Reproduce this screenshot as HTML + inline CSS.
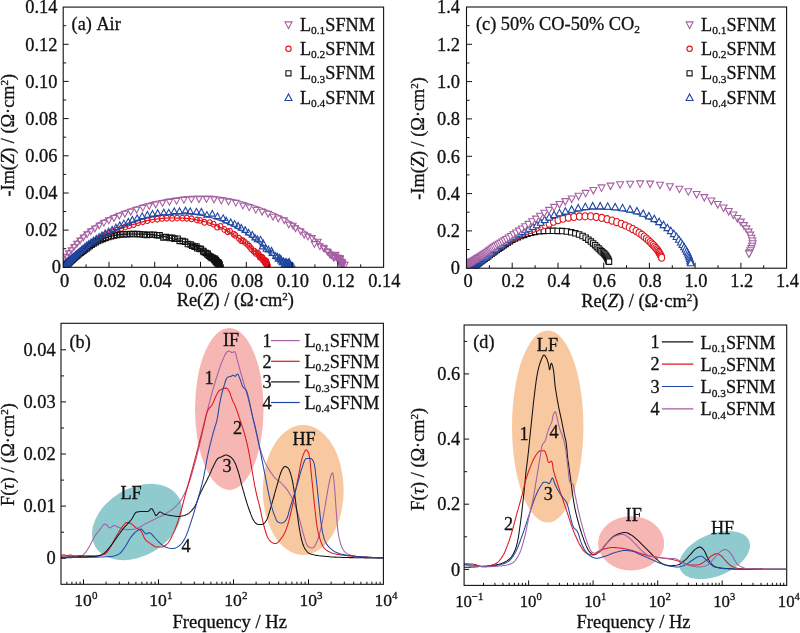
<!DOCTYPE html>
<html><head><meta charset="utf-8"><title>EIS and DRT plots</title>
<style>
html,body{margin:0;padding:0;background:#fff;}
svg{display:block;will-change:transform;font-family:"Liberation Serif",serif;fill:#111;}
text{stroke:#111;stroke-width:0.3px;}
</style></head><body>
<svg width="800" height="633" viewBox="0 0 800 633">
<rect width="800" height="633" fill="#fff"/>
<clipPath id="ca"><rect x="63.2" y="7.1" width="320.4" height="260.2"/></clipPath>
<g fill="none" stroke="#a55fa3" stroke-width="1.1" clip-path="url(#ca)"><path fill="none" stroke-width="1.2" d="M64.8 261.0L65.0 259.7L65.2 258.4L65.5 257.1L65.9 255.9L66.3 254.7L66.8 253.5L67.3 252.4L67.8 251.3L68.5 250.3L69.3 249.3L70.2 248.3L71.1 247.3L72.0 246.3L72.8 245.3L73.7 244.4L74.5 243.4L75.3 242.4L76.2 241.5L77.1 240.5L77.9 239.6L78.8 238.7L79.7 237.8L80.6 236.9L81.6 236.0L82.5 235.1L83.5 234.3L84.5 233.5L85.4 232.6L86.4 231.8L87.4 231.0L88.4 230.2L89.4 229.4L90.4 228.6L91.5 227.9L92.5 227.1L93.6 226.4L94.6 225.7L95.7 224.9L96.7 224.2L97.8 223.5L98.9 222.8L100.0 222.1L101.1 221.4L102.2 220.8L103.3 220.2L104.4 219.5L105.5 219.0L106.7 218.4L107.8 217.8L109.0 217.3L110.1 216.7L111.3 216.2L112.5 215.6L113.6 215.1L114.8 214.6L116.0 214.1L117.2 213.6L118.4 213.2L119.6 212.7L120.7 212.2L121.9 211.7L123.1 211.3L124.3 210.8L125.5 210.4L126.7 210.0L128.0 209.5L129.2 209.1L130.4 208.7L131.6 208.3L132.8 207.9L134.0 207.5L135.3 207.1L136.5 206.7L137.7 206.3L138.9 206.0L140.1 205.6L141.4 205.2L142.6 204.9L143.8 204.5L145.1 204.1L146.3 203.8L147.5 203.5L148.8 203.1L150.0 202.8L151.3 202.5L152.5 202.2L153.7 201.9L155.0 201.6L156.2 201.3L157.5 201.1L158.7 200.8L160.0 200.5L161.3 200.3L162.5 200.1L163.8 199.8L165.0 199.6L166.3 199.4L167.6 199.2L168.8 199.0L170.1 198.8L171.4 198.6L172.6 198.4L173.9 198.2L175.2 198.0L176.4 197.8L177.7 197.7L179.0 197.5L180.2 197.3L181.5 197.1L182.8 197.0L184.1 196.8L185.3 196.7L186.6 196.6L187.9 196.5L189.2 196.4L190.4 196.4L191.7 196.3L193.0 196.3L194.3 196.2L195.6 196.2L196.8 196.2L198.1 196.1L199.4 196.1L200.7 196.1L202.0 196.0L203.3 196.0L204.5 196.0L205.8 196.0L207.1 196.0L208.4 196.0L209.7 196.0L210.9 196.1L212.2 196.2L213.5 196.3L214.8 196.5L216.0 196.6L217.3 196.8L218.6 197.0L219.9 197.1L221.1 197.3L222.4 197.5L223.7 197.7L224.9 197.9L226.2 198.1L227.4 198.3L228.7 198.5L230.0 198.8L231.2 199.1L232.5 199.3L233.7 199.6L235.0 199.9L236.2 200.2L237.5 200.5L238.7 200.8L239.9 201.1L241.2 201.5L242.4 201.8L243.6 202.2L244.9 202.5L246.1 202.9L247.3 203.3L248.5 203.7L249.8 204.1L251.0 204.5L252.2 204.9L253.4 205.3L254.6 205.7L255.8 206.1L257.0 206.5L258.3 206.9L259.5 207.4L260.7 207.8L261.9 208.2L263.1 208.7L264.3 209.1L265.5 209.6L266.7 210.1L267.9 210.5L269.0 211.0L270.2 211.5L271.4 212.0L272.6 212.5L273.8 213.0L275.0 213.5L276.1 214.0L277.3 214.6L278.5 215.1L279.6 215.7L280.8 216.2L281.9 216.8L283.0 217.4L284.2 218.0L285.3 218.6L286.4 219.2L287.5 219.9L288.6 220.6L289.7 221.2L290.8 221.9L291.8 222.6L292.9 223.3L294.0 224.0L295.1 224.7L296.1 225.4L297.2 226.1L298.3 226.8L299.3 227.6L300.4 228.3L301.5 229.0L302.5 229.7L303.6 230.4L304.6 231.1L305.7 231.9L306.7 232.6L307.8 233.3L308.8 234.1L309.9 234.8L310.9 235.6L312.0 236.3L313.0 237.1L314.0 237.9L315.0 238.6L316.1 239.4L317.1 240.2L318.1 241.0L319.1 241.8L320.1 242.6L321.0 243.4L322.0 244.2L323.0 245.1L324.0 245.9L325.0 246.7L326.0 247.5L327.0 248.3L328.0 249.1L329.1 249.8L330.1 250.6L331.2 251.3L332.3 251.9L333.5 252.6L334.7 253.2L335.9 253.8L337.0 254.5L338.1 255.2L339.1 255.9L340.0 256.7L340.7 257.6L341.4 258.6L342.0 259.7L342.6 261.0"/><path d="M61.7 261.6h6.2l-3.1 5.8z"/><path d="M62.3 258.0h6.2l-3.1 5.8z"/><path d="M63.5 254.4h6.2l-3.1 5.8z"/><path d="M65.4 250.8h6.2l-3.1 5.8z"/><path d="M68.1 247.7h6.2l-3.1 5.8z"/><path d="M70.9 244.5h6.2l-3.1 5.8z"/><path d="M73.8 241.3h6.2l-3.1 5.8z"/><path d="M76.9 238.1h6.2l-3.1 5.8z"/><path d="M80.3 235.0h6.2l-3.1 5.8z"/><path d="M83.9 231.9h6.2l-3.1 5.8z"/><path d="M87.7 228.9h6.2l-3.1 5.8z"/><path d="M91.8 226.0h6.2l-3.1 5.8z"/><path d="M96.2 223.1h6.2l-3.1 5.8z"/><path d="M100.8 220.4h6.2l-3.1 5.8z"/><path d="M105.7 217.9h6.2l-3.1 5.8z"/><path d="M110.9 215.5h6.2l-3.1 5.8z"/><path d="M116.2 213.3h6.2l-3.1 5.8z"/><path d="M121.8 211.2h6.2l-3.1 5.8z"/><path d="M127.6 209.2h6.2l-3.1 5.8z"/><path d="M133.5 207.2h6.2l-3.1 5.8z"/><path d="M139.7 205.4h6.2l-3.1 5.8z"/><path d="M146.1 203.6h6.2l-3.1 5.8z"/><path d="M152.6 202.0h6.2l-3.1 5.8z"/><path d="M159.4 200.6h6.2l-3.1 5.8z"/><path d="M166.3 199.4h6.2l-3.1 5.8z"/><path d="M173.5 198.4h6.2l-3.1 5.8z"/><path d="M180.8 197.4h6.2l-3.1 5.8z"/><path d="M188.3 196.9h6.2l-3.1 5.8z"/><path d="M195.9 196.7h6.2l-3.1 5.8z"/><path d="M203.4 196.6h6.2l-3.1 5.8z"/><path d="M210.9 197.0h6.2l-3.1 5.8z"/><path d="M218.2 198.1h6.2l-3.1 5.8z"/><path d="M225.4 199.1h6.2l-3.1 5.8z"/><path d="M232.7 200.4h6.2l-3.1 5.8z"/><path d="M239.8 203.1h6.2l-3.1 5.8z"/><path d="M246.1 204.9h6.2l-3.1 5.8z"/><path d="M252.7 207.4h6.2l-3.1 5.8z"/><path d="M259.0 209.2h6.2l-3.1 5.8z"/><path d="M265.0 211.3h6.2l-3.1 5.8z"/><path d="M269.9 214.3h6.2l-3.1 5.8z"/><path d="M275.2 216.0h6.2l-3.1 5.8z"/><path d="M281.2 217.8h6.2l-3.1 5.8z"/><path d="M285.7 222.1h6.2l-3.1 5.8z"/><path d="M289.9 223.2h6.2l-3.1 5.8z"/><path d="M292.4 225.8h6.2l-3.1 5.8z"/><path d="M297.6 228.8h6.2l-3.1 5.8z"/><path d="M301.1 232.2h6.2l-3.1 5.8z"/><path d="M304.8 234.1h6.2l-3.1 5.8z"/><path d="M309.0 235.6h6.2l-3.1 5.8z"/><path d="M311.3 241.6h6.2l-3.1 5.8z"/><path d="M315.0 239.3h6.2l-3.1 5.8z"/><path d="M316.8 243.9h6.2l-3.1 5.8z"/><path d="M320.3 245.3h6.2l-3.1 5.8z"/><path d="M321.1 246.0h6.2l-3.1 5.8z"/><path d="M324.2 249.0h6.2l-3.1 5.8z"/><path d="M325.1 249.8h6.2l-3.1 5.8z"/><path d="M326.9 252.2h6.2l-3.1 5.8z"/><path d="M328.2 252.8h6.2l-3.1 5.8z"/><path d="M330.7 253.6h6.2l-3.1 5.8z"/><path d="M330.6 255.4h6.2l-3.1 5.8z"/><path d="M331.8 254.7h6.2l-3.1 5.8z"/><path d="M332.7 252.4h6.2l-3.1 5.8z"/><path d="M334.2 255.5h6.2l-3.1 5.8z"/><path d="M334.7 255.9h6.2l-3.1 5.8z"/><path d="M334.8 255.0h6.2l-3.1 5.8z"/><path d="M335.7 258.8h6.2l-3.1 5.8z"/><path d="M336.9 256.1h6.2l-3.1 5.8z"/><path d="M337.1 256.5h6.2l-3.1 5.8z"/><path d="M336.7 258.6h6.2l-3.1 5.8z"/><path d="M337.0 255.7h6.2l-3.1 5.8z"/><path d="M337.0 258.4h6.2l-3.1 5.8z"/><path d="M338.1 260.3h6.2l-3.1 5.8z"/><path d="M337.7 260.0h6.2l-3.1 5.8z"/><path d="M338.8 259.2h6.2l-3.1 5.8z"/><path d="M339.3 260.4h6.2l-3.1 5.8z"/><path d="M338.2 261.6h6.2l-3.1 5.8z"/><path d="M338.1 260.6h6.2l-3.1 5.8z"/><path d="M339.2 261.4h6.2l-3.1 5.8z"/><path d="M338.8 261.2h6.2l-3.1 5.8z"/><path d="M339.4 262.8h6.2l-3.1 5.8z"/><path d="M339.0 261.9h6.2l-3.1 5.8z"/><path d="M339.5 260.5h6.2l-3.1 5.8z"/><path d="M341.9 262.4h6.2l-3.1 5.8z"/><path d="M338.7 264.4h6.2l-3.1 5.8z"/></g>
<g fill="none" stroke="#e0141e" stroke-width="1.1" clip-path="url(#ca)"><path fill="none" stroke-width="1.2" d="M65.0 266.3L65.6 265.6L66.3 265.0L66.9 264.3L67.6 263.6L68.2 263.0L68.9 262.3L69.5 261.7L70.2 261.0L70.9 260.4L71.6 259.8L72.2 259.2L72.9 258.6L73.6 258.0L74.3 257.4L75.0 256.8L75.7 256.2L76.4 255.6L77.2 255.0L77.9 254.4L78.6 253.8L79.3 253.2L80.0 252.6L80.6 251.9L81.3 251.3L82.0 250.7L82.7 250.1L83.4 249.5L84.1 248.9L84.8 248.3L85.6 247.7L86.3 247.2L87.0 246.6L87.7 246.0L88.5 245.5L89.2 244.9L90.0 244.4L90.7 243.9L91.5 243.3L92.2 242.8L93.0 242.3L93.8 241.8L94.6 241.3L95.3 240.8L96.1 240.3L96.9 239.8L97.7 239.3L98.5 238.9L99.3 238.4L100.1 237.9L100.9 237.5L101.7 237.0L102.5 236.6L103.3 236.1L104.1 235.7L105.0 235.3L105.8 234.8L106.6 234.4L107.4 234.0L108.3 233.6L109.1 233.3L109.9 232.9L110.8 232.5L111.6 232.2L112.5 231.8L113.3 231.4L114.2 231.1L115.1 230.8L115.9 230.4L116.8 230.1L117.7 229.8L118.5 229.4L119.4 229.1L120.3 228.8L121.1 228.5L122.0 228.2L122.9 227.9L123.7 227.6L124.6 227.3L125.5 227.0L126.4 226.7L127.2 226.4L128.1 226.1L129.0 225.8L129.9 225.5L130.8 225.2L131.6 224.9L132.5 224.7L133.4 224.4L134.3 224.1L135.2 223.9L136.1 223.6L136.9 223.4L137.8 223.1L138.7 222.9L139.6 222.6L140.5 222.4L141.4 222.1L142.3 221.9L143.2 221.6L144.1 221.4L145.0 221.1L145.9 220.9L146.8 220.7L147.7 220.5L148.6 220.3L149.5 220.1L150.4 219.9L151.3 219.8L152.2 219.6L153.1 219.5L154.0 219.4L154.9 219.3L155.9 219.2L156.8 219.0L157.7 218.9L158.6 218.8L159.5 218.7L160.4 218.6L161.4 218.5L162.3 218.4L163.2 218.3L164.1 218.2L165.1 218.2L166.0 218.1L166.9 218.1L167.8 218.0L168.8 218.0L169.7 218.0L170.6 218.0L171.5 218.0L172.4 218.0L173.4 218.0L174.3 218.0L175.2 218.0L176.1 218.1L177.1 218.1L178.0 218.1L178.9 218.1L179.8 218.1L180.8 218.2L181.7 218.2L182.6 218.2L183.5 218.2L184.5 218.3L185.4 218.3L186.3 218.4L187.2 218.4L188.1 218.5L189.0 218.6L190.0 218.7L190.9 218.8L191.8 219.0L192.7 219.1L193.6 219.3L194.5 219.4L195.5 219.6L196.4 219.8L197.3 220.0L198.2 220.1L199.1 220.3L200.0 220.5L200.9 220.7L201.8 220.9L202.7 221.1L203.6 221.3L204.5 221.5L205.4 221.8L206.3 222.0L207.2 222.3L208.0 222.6L208.9 222.9L209.8 223.2L210.7 223.4L211.6 223.8L212.4 224.1L213.3 224.4L214.2 224.7L215.0 225.0L215.9 225.3L216.7 225.7L217.6 226.0L218.4 226.4L219.3 226.8L220.1 227.2L220.9 227.6L221.8 228.0L222.6 228.4L223.4 228.8L224.3 229.3L225.1 229.7L225.9 230.2L226.7 230.6L227.5 231.1L228.3 231.5L229.1 232.0L229.9 232.4L230.7 232.9L231.5 233.4L232.3 233.9L233.0 234.4L233.8 234.9L234.6 235.4L235.4 235.9L236.1 236.4L236.9 236.9L237.6 237.5L238.4 238.0L239.2 238.5L239.9 239.1L240.6 239.6L241.4 240.2L242.1 240.8L242.9 241.3L243.6 241.9L244.3 242.5L245.0 243.0L245.8 243.6L246.5 244.2L247.2 244.8L247.9 245.4L248.6 245.9L249.3 246.5L250.0 247.1L250.7 247.8L251.4 248.4L252.1 249.0L252.8 249.6L253.5 250.2L254.1 250.9L254.8 251.5L255.5 252.1L256.2 252.8L256.8 253.4L257.5 254.0L258.2 254.7L258.8 255.3L259.5 256.0L260.1 256.6L260.8 257.3L261.4 257.9L262.1 258.6L262.7 259.3L263.3 260.0L263.9 260.6L264.6 261.3L265.2 262.0L265.8 262.7L266.4 263.4L267.0 264.1"/><path d="M62.6 266.3a2.4 2.4 0 1 0 4.7 0a2.4 2.4 0 1 0 -4.7 0z"/><path d="M62.9 266.0a2.4 2.4 0 1 0 4.7 0a2.4 2.4 0 1 0 -4.7 0z"/><path d="M63.2 265.7a2.4 2.4 0 1 0 4.7 0a2.4 2.4 0 1 0 -4.7 0z"/><path d="M63.5 265.4a2.4 2.4 0 1 0 4.7 0a2.4 2.4 0 1 0 -4.7 0z"/><path d="M63.8 265.0a2.4 2.4 0 1 0 4.7 0a2.4 2.4 0 1 0 -4.7 0z"/><path d="M64.2 264.7a2.4 2.4 0 1 0 4.7 0a2.4 2.4 0 1 0 -4.7 0z"/><path d="M64.6 264.3a2.4 2.4 0 1 0 4.7 0a2.4 2.4 0 1 0 -4.7 0z"/><path d="M64.9 263.9a2.4 2.4 0 1 0 4.7 0a2.4 2.4 0 1 0 -4.7 0z"/><path d="M65.4 263.5a2.4 2.4 0 1 0 4.7 0a2.4 2.4 0 1 0 -4.7 0z"/><path d="M65.8 263.0a2.4 2.4 0 1 0 4.7 0a2.4 2.4 0 1 0 -4.7 0z"/><path d="M66.3 262.6a2.4 2.4 0 1 0 4.7 0a2.4 2.4 0 1 0 -4.7 0z"/><path d="M66.8 262.1a2.4 2.4 0 1 0 4.7 0a2.4 2.4 0 1 0 -4.7 0z"/><path d="M67.3 261.6a2.4 2.4 0 1 0 4.7 0a2.4 2.4 0 1 0 -4.7 0z"/><path d="M67.9 261.0a2.4 2.4 0 1 0 4.7 0a2.4 2.4 0 1 0 -4.7 0z"/><path d="M68.5 260.4a2.4 2.4 0 1 0 4.7 0a2.4 2.4 0 1 0 -4.7 0z"/><path d="M69.2 259.8a2.4 2.4 0 1 0 4.7 0a2.4 2.4 0 1 0 -4.7 0z"/><path d="M69.9 259.1a2.4 2.4 0 1 0 4.7 0a2.4 2.4 0 1 0 -4.7 0z"/><path d="M70.7 258.4a2.4 2.4 0 1 0 4.7 0a2.4 2.4 0 1 0 -4.7 0z"/><path d="M71.6 257.7a2.4 2.4 0 1 0 4.7 0a2.4 2.4 0 1 0 -4.7 0z"/><path d="M72.6 256.8a2.4 2.4 0 1 0 4.7 0a2.4 2.4 0 1 0 -4.7 0z"/><path d="M73.7 255.9a2.4 2.4 0 1 0 4.7 0a2.4 2.4 0 1 0 -4.7 0z"/><path d="M74.8 255.0a2.4 2.4 0 1 0 4.7 0a2.4 2.4 0 1 0 -4.7 0z"/><path d="M76.1 253.9a2.4 2.4 0 1 0 4.7 0a2.4 2.4 0 1 0 -4.7 0z"/><path d="M77.4 252.7a2.4 2.4 0 1 0 4.7 0a2.4 2.4 0 1 0 -4.7 0z"/><path d="M78.8 251.5a2.4 2.4 0 1 0 4.7 0a2.4 2.4 0 1 0 -4.7 0z"/><path d="M80.4 250.1a2.4 2.4 0 1 0 4.7 0a2.4 2.4 0 1 0 -4.7 0z"/><path d="M82.0 248.7a2.4 2.4 0 1 0 4.7 0a2.4 2.4 0 1 0 -4.7 0z"/><path d="M83.8 247.3a2.4 2.4 0 1 0 4.7 0a2.4 2.4 0 1 0 -4.7 0z"/><path d="M85.7 245.8a2.4 2.4 0 1 0 4.7 0a2.4 2.4 0 1 0 -4.7 0z"/><path d="M87.8 244.2a2.4 2.4 0 1 0 4.7 0a2.4 2.4 0 1 0 -4.7 0z"/><path d="M90.1 242.7a2.4 2.4 0 1 0 4.7 0a2.4 2.4 0 1 0 -4.7 0z"/><path d="M92.6 241.0a2.4 2.4 0 1 0 4.7 0a2.4 2.4 0 1 0 -4.7 0z"/><path d="M95.2 239.4a2.4 2.4 0 1 0 4.7 0a2.4 2.4 0 1 0 -4.7 0z"/><path d="M98.0 237.8a2.4 2.4 0 1 0 4.7 0a2.4 2.4 0 1 0 -4.7 0z"/><path d="M100.9 236.1a2.4 2.4 0 1 0 4.7 0a2.4 2.4 0 1 0 -4.7 0z"/><path d="M104.1 234.5a2.4 2.4 0 1 0 4.7 0a2.4 2.4 0 1 0 -4.7 0z"/><path d="M107.5 232.9a2.4 2.4 0 1 0 4.7 0a2.4 2.4 0 1 0 -4.7 0z"/><path d="M111.1 231.4a2.4 2.4 0 1 0 4.7 0a2.4 2.4 0 1 0 -4.7 0z"/><path d="M114.9 229.9a2.4 2.4 0 1 0 4.7 0a2.4 2.4 0 1 0 -4.7 0z"/><path d="M118.9 228.4a2.4 2.4 0 1 0 4.7 0a2.4 2.4 0 1 0 -4.7 0z"/><path d="M122.8 227.0a2.4 2.4 0 1 0 4.7 0a2.4 2.4 0 1 0 -4.7 0z"/><path d="M126.8 225.6a2.4 2.4 0 1 0 4.7 0a2.4 2.4 0 1 0 -4.7 0z"/><path d="M131.2 224.7a2.4 2.4 0 1 0 4.7 0a2.4 2.4 0 1 0 -4.7 0z"/><path d="M135.7 222.7a2.4 2.4 0 1 0 4.7 0a2.4 2.4 0 1 0 -4.7 0z"/><path d="M140.4 221.7a2.4 2.4 0 1 0 4.7 0a2.4 2.4 0 1 0 -4.7 0z"/><path d="M145.0 220.6a2.4 2.4 0 1 0 4.7 0a2.4 2.4 0 1 0 -4.7 0z"/><path d="M149.9 219.5a2.4 2.4 0 1 0 4.7 0a2.4 2.4 0 1 0 -4.7 0z"/><path d="M154.9 219.2a2.4 2.4 0 1 0 4.7 0a2.4 2.4 0 1 0 -4.7 0z"/><path d="M159.6 218.4a2.4 2.4 0 1 0 4.7 0a2.4 2.4 0 1 0 -4.7 0z"/><path d="M164.4 218.2a2.4 2.4 0 1 0 4.7 0a2.4 2.4 0 1 0 -4.7 0z"/><path d="M169.8 218.3a2.4 2.4 0 1 0 4.7 0a2.4 2.4 0 1 0 -4.7 0z"/><path d="M174.8 218.0a2.4 2.4 0 1 0 4.7 0a2.4 2.4 0 1 0 -4.7 0z"/><path d="M180.0 218.1a2.4 2.4 0 1 0 4.7 0a2.4 2.4 0 1 0 -4.7 0z"/><path d="M184.4 218.2a2.4 2.4 0 1 0 4.7 0a2.4 2.4 0 1 0 -4.7 0z"/><path d="M189.2 218.8a2.4 2.4 0 1 0 4.7 0a2.4 2.4 0 1 0 -4.7 0z"/><path d="M194.6 220.0a2.4 2.4 0 1 0 4.7 0a2.4 2.4 0 1 0 -4.7 0z"/><path d="M197.7 220.4a2.4 2.4 0 1 0 4.7 0a2.4 2.4 0 1 0 -4.7 0z"/><path d="M202.1 222.3a2.4 2.4 0 1 0 4.7 0a2.4 2.4 0 1 0 -4.7 0z"/><path d="M207.4 222.6a2.4 2.4 0 1 0 4.7 0a2.4 2.4 0 1 0 -4.7 0z"/><path d="M211.1 224.2a2.4 2.4 0 1 0 4.7 0a2.4 2.4 0 1 0 -4.7 0z"/><path d="M214.8 227.1a2.4 2.4 0 1 0 4.7 0a2.4 2.4 0 1 0 -4.7 0z"/><path d="M218.1 226.4a2.4 2.4 0 1 0 4.7 0a2.4 2.4 0 1 0 -4.7 0z"/><path d="M222.0 229.5a2.4 2.4 0 1 0 4.7 0a2.4 2.4 0 1 0 -4.7 0z"/><path d="M225.2 231.7a2.4 2.4 0 1 0 4.7 0a2.4 2.4 0 1 0 -4.7 0z"/><path d="M227.6 231.1a2.4 2.4 0 1 0 4.7 0a2.4 2.4 0 1 0 -4.7 0z"/><path d="M231.4 234.2a2.4 2.4 0 1 0 4.7 0a2.4 2.4 0 1 0 -4.7 0z"/><path d="M233.0 235.4a2.4 2.4 0 1 0 4.7 0a2.4 2.4 0 1 0 -4.7 0z"/><path d="M236.7 238.3a2.4 2.4 0 1 0 4.7 0a2.4 2.4 0 1 0 -4.7 0z"/><path d="M238.8 240.6a2.4 2.4 0 1 0 4.7 0a2.4 2.4 0 1 0 -4.7 0z"/><path d="M240.6 240.8a2.4 2.4 0 1 0 4.7 0a2.4 2.4 0 1 0 -4.7 0z"/><path d="M242.7 242.5a2.4 2.4 0 1 0 4.7 0a2.4 2.4 0 1 0 -4.7 0z"/><path d="M245.1 244.4a2.4 2.4 0 1 0 4.7 0a2.4 2.4 0 1 0 -4.7 0z"/><path d="M247.1 246.3a2.4 2.4 0 1 0 4.7 0a2.4 2.4 0 1 0 -4.7 0z"/><path d="M248.9 248.8a2.4 2.4 0 1 0 4.7 0a2.4 2.4 0 1 0 -4.7 0z"/><path d="M251.2 251.0a2.4 2.4 0 1 0 4.7 0a2.4 2.4 0 1 0 -4.7 0z"/><path d="M252.2 251.4a2.4 2.4 0 1 0 4.7 0a2.4 2.4 0 1 0 -4.7 0z"/><path d="M253.4 253.4a2.4 2.4 0 1 0 4.7 0a2.4 2.4 0 1 0 -4.7 0z"/><path d="M255.6 253.3a2.4 2.4 0 1 0 4.7 0a2.4 2.4 0 1 0 -4.7 0z"/><path d="M256.4 254.6a2.4 2.4 0 1 0 4.7 0a2.4 2.4 0 1 0 -4.7 0z"/><path d="M256.9 256.0a2.4 2.4 0 1 0 4.7 0a2.4 2.4 0 1 0 -4.7 0z"/><path d="M257.7 257.4a2.4 2.4 0 1 0 4.7 0a2.4 2.4 0 1 0 -4.7 0z"/><path d="M257.9 256.9a2.4 2.4 0 1 0 4.7 0a2.4 2.4 0 1 0 -4.7 0z"/><path d="M259.2 257.3a2.4 2.4 0 1 0 4.7 0a2.4 2.4 0 1 0 -4.7 0z"/><path d="M260.0 257.5a2.4 2.4 0 1 0 4.7 0a2.4 2.4 0 1 0 -4.7 0z"/><path d="M260.3 258.1a2.4 2.4 0 1 0 4.7 0a2.4 2.4 0 1 0 -4.7 0z"/><path d="M260.6 260.1a2.4 2.4 0 1 0 4.7 0a2.4 2.4 0 1 0 -4.7 0z"/><path d="M262.1 261.0a2.4 2.4 0 1 0 4.7 0a2.4 2.4 0 1 0 -4.7 0z"/><path d="M262.2 260.5a2.4 2.4 0 1 0 4.7 0a2.4 2.4 0 1 0 -4.7 0z"/><path d="M262.7 260.6a2.4 2.4 0 1 0 4.7 0a2.4 2.4 0 1 0 -4.7 0z"/><path d="M261.9 260.1a2.4 2.4 0 1 0 4.7 0a2.4 2.4 0 1 0 -4.7 0z"/><path d="M262.4 262.3a2.4 2.4 0 1 0 4.7 0a2.4 2.4 0 1 0 -4.7 0z"/><path d="M262.3 261.5a2.4 2.4 0 1 0 4.7 0a2.4 2.4 0 1 0 -4.7 0z"/><path d="M262.6 261.8a2.4 2.4 0 1 0 4.7 0a2.4 2.4 0 1 0 -4.7 0z"/><path d="M262.8 261.3a2.4 2.4 0 1 0 4.7 0a2.4 2.4 0 1 0 -4.7 0z"/><path d="M264.0 261.1a2.4 2.4 0 1 0 4.7 0a2.4 2.4 0 1 0 -4.7 0z"/><path d="M263.1 263.2a2.4 2.4 0 1 0 4.7 0a2.4 2.4 0 1 0 -4.7 0z"/><path d="M264.3 263.0a2.4 2.4 0 1 0 4.7 0a2.4 2.4 0 1 0 -4.7 0z"/><path d="M263.9 263.5a2.4 2.4 0 1 0 4.7 0a2.4 2.4 0 1 0 -4.7 0z"/><path d="M264.2 264.4a2.4 2.4 0 1 0 4.7 0a2.4 2.4 0 1 0 -4.7 0z"/><path d="M264.3 263.2a2.4 2.4 0 1 0 4.7 0a2.4 2.4 0 1 0 -4.7 0z"/><path d="M264.5 264.3a2.4 2.4 0 1 0 4.7 0a2.4 2.4 0 1 0 -4.7 0z"/><path d="M265.5 265.7a2.4 2.4 0 1 0 4.7 0a2.4 2.4 0 1 0 -4.7 0z"/><path d="M264.9 263.5a2.4 2.4 0 1 0 4.7 0a2.4 2.4 0 1 0 -4.7 0z"/><path d="M264.5 266.4a2.4 2.4 0 1 0 4.7 0a2.4 2.4 0 1 0 -4.7 0z"/></g>
<g fill="none" stroke="#111111" stroke-width="1.1" clip-path="url(#ca)"><path fill="none" stroke-width="1.2" d="M65.0 266.5L65.5 266.0L66.0 265.5L66.5 265.0L67.0 264.6L67.5 264.1L68.0 263.6L68.5 263.1L69.0 262.7L69.5 262.2L70.0 261.7L70.5 261.3L71.0 260.8L71.5 260.3L72.0 259.9L72.5 259.4L73.1 259.0L73.6 258.5L74.1 258.0L74.6 257.6L75.1 257.1L75.7 256.7L76.2 256.2L76.7 255.8L77.2 255.4L77.8 254.9L78.3 254.5L78.9 254.1L79.4 253.6L79.9 253.2L80.5 252.8L81.0 252.4L81.6 252.0L82.2 251.6L82.7 251.2L83.3 250.8L83.8 250.4L84.4 250.0L85.0 249.6L85.5 249.2L86.1 248.8L86.7 248.4L87.2 248.0L87.8 247.6L88.3 247.2L88.9 246.7L89.4 246.3L90.0 245.9L90.6 245.5L91.1 245.1L91.7 244.7L92.3 244.3L92.8 243.9L93.4 243.6L94.0 243.2L94.6 242.8L95.2 242.5L95.8 242.2L96.4 241.9L97.0 241.5L97.6 241.2L98.2 240.9L98.9 240.6L99.5 240.4L100.1 240.1L100.8 239.8L101.4 239.5L102.0 239.3L102.7 239.0L103.3 238.8L104.0 238.5L104.6 238.3L105.3 238.0L105.9 237.8L106.6 237.6L107.2 237.3L107.9 237.1L108.5 236.9L109.2 236.7L109.8 236.5L110.5 236.3L111.2 236.1L111.8 235.9L112.5 235.8L113.2 235.7L113.9 235.5L114.5 235.4L115.2 235.3L115.9 235.2L116.6 235.1L117.3 235.0L117.9 234.9L118.6 234.8L119.3 234.7L120.0 234.6L120.7 234.5L121.4 234.5L122.1 234.4L122.7 234.4L123.4 234.3L124.1 234.3L124.8 234.2L125.5 234.2L126.2 234.1L126.9 234.1L127.6 234.1L128.3 234.0L129.0 234.0L129.6 234.0L130.3 234.0L131.0 234.0L131.7 234.0L132.4 234.0L133.1 234.0L133.8 234.0L134.5 234.0L135.2 234.0L135.8 234.0L136.5 234.0L137.2 234.0L137.9 234.1L138.6 234.1L139.3 234.1L140.0 234.1L140.7 234.1L141.4 234.1L142.1 234.1L142.7 234.1L143.4 234.1L144.1 234.2L144.8 234.2L145.5 234.2L146.2 234.2L146.9 234.2L147.6 234.3L148.3 234.3L148.9 234.3L149.6 234.4L150.3 234.5L151.0 234.5L151.7 234.6L152.4 234.7L153.1 234.8L153.7 234.9L154.4 235.0L155.1 235.1L155.8 235.2L156.5 235.3L157.2 235.4L157.9 235.5L158.5 235.6L159.2 235.7L159.9 235.8L160.6 235.9L161.3 236.0L161.9 236.1L162.6 236.3L163.3 236.4L164.0 236.5L164.6 236.7L165.3 236.8L166.0 237.0L166.7 237.1L167.3 237.3L168.0 237.5L168.7 237.6L169.3 237.8L170.0 238.0L170.7 238.1L171.3 238.3L172.0 238.5L172.7 238.6L173.3 238.8L174.0 239.0L174.7 239.2L175.4 239.3L176.0 239.5L176.7 239.7L177.4 239.9L178.0 240.0L178.7 240.2L179.4 240.4L180.0 240.6L180.7 240.8L181.3 241.0L182.0 241.2L182.7 241.4L183.3 241.6L184.0 241.8L184.6 242.1L185.3 242.3L185.9 242.5L186.6 242.8L187.2 243.0L187.8 243.3L188.5 243.5L189.1 243.8L189.8 244.0L190.4 244.3L191.1 244.6L191.7 244.8L192.3 245.1L193.0 245.4L193.6 245.7L194.2 246.0L194.8 246.3L195.5 246.6L196.1 246.9L196.7 247.2L197.3 247.5L197.9 247.9L198.5 248.2L199.1 248.5L199.7 248.8L200.3 249.2L200.9 249.5L201.5 249.9L202.1 250.2L202.6 250.6L203.2 251.0L203.8 251.4L204.4 251.8L204.9 252.2L205.5 252.6L206.0 253.0L206.6 253.4L207.1 253.9L207.7 254.3L208.2 254.7L208.8 255.1L209.3 255.6L209.9 256.0L210.4 256.4L210.9 256.9L211.5 257.3L212.0 257.7L212.5 258.2L213.0 258.6L213.6 259.1L214.1 259.5L214.6 260.0L215.1 260.5L215.6 260.9L216.1 261.4L216.6 261.9L217.1 262.3L217.6 262.8L218.1 263.3L218.6 263.8L219.1 264.3"/><path d="M62.3 263.8h5.4v5.4h-5.4z"/><path d="M62.6 263.5h5.4v5.4h-5.4z"/><path d="M62.9 263.2h5.4v5.4h-5.4z"/><path d="M63.2 262.9h5.4v5.4h-5.4z"/><path d="M63.5 262.6h5.4v5.4h-5.4z"/><path d="M63.8 262.3h5.4v5.4h-5.4z"/><path d="M64.1 262.0h5.4v5.4h-5.4z"/><path d="M64.5 261.7h5.4v5.4h-5.4z"/><path d="M64.8 261.3h5.4v5.4h-5.4z"/><path d="M65.2 261.0h5.4v5.4h-5.4z"/><path d="M65.6 260.6h5.4v5.4h-5.4z"/><path d="M65.9 260.3h5.4v5.4h-5.4z"/><path d="M66.3 259.9h5.4v5.4h-5.4z"/><path d="M66.8 259.5h5.4v5.4h-5.4z"/><path d="M67.2 259.1h5.4v5.4h-5.4z"/><path d="M67.7 258.6h5.4v5.4h-5.4z"/><path d="M68.3 258.1h5.4v5.4h-5.4z"/><path d="M68.8 257.6h5.4v5.4h-5.4z"/><path d="M69.5 257.1h5.4v5.4h-5.4z"/><path d="M70.1 256.4h5.4v5.4h-5.4z"/><path d="M70.9 255.8h5.4v5.4h-5.4z"/><path d="M71.7 255.1h5.4v5.4h-5.4z"/><path d="M72.5 254.3h5.4v5.4h-5.4z"/><path d="M73.5 253.5h5.4v5.4h-5.4z"/><path d="M74.5 252.7h5.4v5.4h-5.4z"/><path d="M75.6 251.8h5.4v5.4h-5.4z"/><path d="M76.7 250.9h5.4v5.4h-5.4z"/><path d="M77.9 250.0h5.4v5.4h-5.4z"/><path d="M79.3 249.0h5.4v5.4h-5.4z"/><path d="M80.7 248.0h5.4v5.4h-5.4z"/><path d="M82.2 246.9h5.4v5.4h-5.4z"/><path d="M83.8 245.8h5.4v5.4h-5.4z"/><path d="M85.4 244.6h5.4v5.4h-5.4z"/><path d="M87.1 243.3h5.4v5.4h-5.4z"/><path d="M88.9 242.0h5.4v5.4h-5.4z"/><path d="M90.9 240.7h5.4v5.4h-5.4z"/><path d="M93.0 239.5h5.4v5.4h-5.4z"/><path d="M95.2 238.4h5.4v5.4h-5.4z"/><path d="M97.7 237.3h5.4v5.4h-5.4z"/><path d="M100.2 236.2h5.4v5.4h-5.4z"/><path d="M102.9 235.2h5.4v5.4h-5.4z"/><path d="M105.6 234.3h5.4v5.4h-5.4z"/><path d="M108.4 233.5h5.4v5.4h-5.4z"/><path d="M111.3 232.8h5.4v5.4h-5.4z"/><path d="M114.3 232.2h5.4v5.4h-5.4z"/><path d="M117.6 231.8h5.4v5.4h-5.4z"/><path d="M120.8 231.5h5.4v5.4h-5.4z"/><path d="M124.0 231.6h5.4v5.4h-5.4z"/><path d="M127.4 231.2h5.4v5.4h-5.4z"/><path d="M130.8 231.4h5.4v5.4h-5.4z"/><path d="M134.3 231.4h5.4v5.4h-5.4z"/><path d="M137.2 231.6h5.4v5.4h-5.4z"/><path d="M141.0 231.8h5.4v5.4h-5.4z"/><path d="M144.1 232.4h5.4v5.4h-5.4z"/><path d="M147.4 232.0h5.4v5.4h-5.4z"/><path d="M151.0 232.0h5.4v5.4h-5.4z"/><path d="M154.4 232.5h5.4v5.4h-5.4z"/><path d="M156.9 232.6h5.4v5.4h-5.4z"/><path d="M160.7 234.7h5.4v5.4h-5.4z"/><path d="M163.3 234.4h5.4v5.4h-5.4z"/><path d="M167.1 235.4h5.4v5.4h-5.4z"/><path d="M169.4 235.1h5.4v5.4h-5.4z"/><path d="M171.7 236.1h5.4v5.4h-5.4z"/><path d="M174.9 236.0h5.4v5.4h-5.4z"/><path d="M177.0 238.2h5.4v5.4h-5.4z"/><path d="M180.0 238.3h5.4v5.4h-5.4z"/><path d="M182.4 239.1h5.4v5.4h-5.4z"/><path d="M185.2 241.4h5.4v5.4h-5.4z"/><path d="M187.9 241.8h5.4v5.4h-5.4z"/><path d="M189.5 243.1h5.4v5.4h-5.4z"/><path d="M191.9 244.1h5.4v5.4h-5.4z"/><path d="M193.7 243.7h5.4v5.4h-5.4z"/><path d="M194.5 245.6h5.4v5.4h-5.4z"/><path d="M196.8 246.0h5.4v5.4h-5.4z"/><path d="M198.2 246.2h5.4v5.4h-5.4z"/><path d="M200.5 248.3h5.4v5.4h-5.4z"/><path d="M201.1 249.2h5.4v5.4h-5.4z"/><path d="M202.9 250.2h5.4v5.4h-5.4z"/><path d="M204.9 250.9h5.4v5.4h-5.4z"/><path d="M204.8 251.8h5.4v5.4h-5.4z"/><path d="M206.2 253.0h5.4v5.4h-5.4z"/><path d="M207.6 253.8h5.4v5.4h-5.4z"/><path d="M208.2 254.6h5.4v5.4h-5.4z"/><path d="M209.1 255.3h5.4v5.4h-5.4z"/><path d="M209.9 255.0h5.4v5.4h-5.4z"/><path d="M210.8 255.8h5.4v5.4h-5.4z"/><path d="M211.7 257.0h5.4v5.4h-5.4z"/><path d="M211.9 257.2h5.4v5.4h-5.4z"/><path d="M212.2 256.1h5.4v5.4h-5.4z"/><path d="M213.0 257.4h5.4v5.4h-5.4z"/><path d="M213.3 257.8h5.4v5.4h-5.4z"/><path d="M213.2 258.4h5.4v5.4h-5.4z"/><path d="M213.1 258.7h5.4v5.4h-5.4z"/><path d="M213.9 258.8h5.4v5.4h-5.4z"/><path d="M213.5 258.9h5.4v5.4h-5.4z"/><path d="M214.3 260.1h5.4v5.4h-5.4z"/><path d="M214.7 259.8h5.4v5.4h-5.4z"/><path d="M214.3 260.4h5.4v5.4h-5.4z"/><path d="M214.9 259.9h5.4v5.4h-5.4z"/><path d="M215.4 260.6h5.4v5.4h-5.4z"/><path d="M215.5 259.8h5.4v5.4h-5.4z"/><path d="M215.3 259.7h5.4v5.4h-5.4z"/><path d="M215.8 260.9h5.4v5.4h-5.4z"/><path d="M216.3 261.3h5.4v5.4h-5.4z"/><path d="M216.0 262.6h5.4v5.4h-5.4z"/><path d="M216.0 260.8h5.4v5.4h-5.4z"/><path d="M216.4 262.1h5.4v5.4h-5.4z"/><path d="M216.7 261.7h5.4v5.4h-5.4z"/><path d="M216.4 262.9h5.4v5.4h-5.4z"/></g>
<g fill="none" stroke="#1f47a3" stroke-width="1.1" clip-path="url(#ca)"><path fill="none" stroke-width="1.2" d="M65.0 268.8L65.7 268.0L66.3 267.2L67.0 266.4L67.7 265.6L68.4 264.9L69.1 264.1L69.8 263.3L70.5 262.6L71.2 261.9L72.0 261.1L72.7 260.4L73.5 259.7L74.2 259.0L75.0 258.3L75.8 257.6L76.6 256.9L77.3 256.2L78.1 255.6L78.9 254.9L79.7 254.2L80.4 253.5L81.2 252.8L82.0 252.1L82.8 251.4L83.5 250.7L84.3 250.1L85.1 249.4L85.9 248.7L86.8 248.1L87.6 247.5L88.4 246.9L89.2 246.2L90.1 245.6L90.9 245.0L91.8 244.5L92.6 243.9L93.5 243.3L94.4 242.7L95.2 242.1L96.1 241.6L97.0 241.0L97.8 240.4L98.7 239.9L99.6 239.3L100.5 238.8L101.4 238.3L102.3 237.7L103.2 237.2L104.1 236.7L105.0 236.2L105.9 235.7L106.8 235.2L107.7 234.7L108.6 234.2L109.5 233.8L110.5 233.3L111.4 232.8L112.3 232.3L113.2 231.8L114.1 231.3L115.0 230.8L115.9 230.3L116.8 229.8L117.7 229.3L118.6 228.8L119.6 228.3L120.5 227.9L121.4 227.4L122.4 227.0L123.3 226.5L124.2 226.1L125.2 225.7L126.1 225.2L127.1 224.8L128.0 224.4L129.0 224.0L129.9 223.6L130.9 223.2L131.9 222.8L132.8 222.4L133.8 222.0L134.8 221.7L135.7 221.3L136.7 221.0L137.7 220.6L138.7 220.3L139.7 220.0L140.7 219.7L141.7 219.4L142.6 219.1L143.6 218.8L144.7 218.5L145.7 218.3L146.7 218.0L147.7 217.7L148.7 217.5L149.7 217.3L150.7 217.1L151.7 216.8L152.7 216.7L153.7 216.5L154.8 216.3L155.8 216.1L156.8 215.9L157.8 215.8L158.9 215.6L159.9 215.5L160.9 215.3L161.9 215.2L163.0 215.0L164.0 214.9L165.0 214.8L166.1 214.7L167.1 214.6L168.1 214.6L169.2 214.5L170.2 214.4L171.2 214.3L172.3 214.3L173.3 214.2L174.3 214.2L175.4 214.1L176.4 214.0L177.5 214.0L178.5 213.9L179.5 213.9L180.6 213.9L181.6 213.8L182.6 213.8L183.7 213.8L184.7 213.8L185.7 213.8L186.8 213.8L187.8 213.9L188.9 213.9L189.9 214.0L190.9 214.1L192.0 214.2L193.0 214.3L194.0 214.4L195.1 214.5L196.1 214.7L197.1 214.8L198.2 214.9L199.2 215.1L200.2 215.2L201.2 215.4L202.2 215.5L203.3 215.7L204.3 215.9L205.3 216.2L206.3 216.4L207.3 216.6L208.3 216.9L209.3 217.2L210.3 217.4L211.3 217.7L212.3 218.0L213.3 218.3L214.3 218.6L215.3 218.9L216.3 219.2L217.3 219.5L218.3 219.9L219.2 220.2L220.2 220.6L221.2 221.0L222.1 221.3L223.1 221.7L224.1 222.1L225.0 222.6L226.0 223.0L226.9 223.4L227.9 223.8L228.8 224.3L229.7 224.7L230.7 225.1L231.6 225.6L232.6 226.0L233.5 226.5L234.4 226.9L235.3 227.4L236.3 227.9L237.2 228.4L238.1 228.9L239.0 229.4L239.9 229.9L240.8 230.4L241.7 231.0L242.6 231.5L243.5 232.0L244.3 232.6L245.2 233.1L246.1 233.7L246.9 234.3L247.8 234.9L248.6 235.4L249.5 236.0L250.3 236.7L251.2 237.3L252.0 237.9L252.8 238.5L253.6 239.2L254.5 239.8L255.3 240.5L256.1 241.1L256.9 241.8L257.7 242.4L258.5 243.1L259.3 243.7L260.1 244.4L260.9 245.1L261.7 245.7L262.5 246.4L263.2 247.1L264.0 247.8L264.8 248.5L265.5 249.2L266.3 249.9L267.0 250.6L267.8 251.3L268.6 252.1L269.3 252.8L270.1 253.5L270.8 254.2L271.6 254.9L272.4 255.6L273.2 256.2L273.9 256.9L274.7 257.6L275.5 258.2L276.3 258.9L277.1 259.6L277.9 260.3L278.7 261.0L279.5 261.7L280.3 262.4L281.1 263.1L282.0 263.7L282.8 264.4L283.6 265.0L284.5 265.5L285.4 266.0L286.3 266.5L287.2 266.9L288.1 267.2L289.1 267.6L290.1 267.9L291.1 268.1"/><path d="M62.0 268.4h6.1l-3.0 -5.7z"/><path d="M62.2 268.1h6.1l-3.0 -5.7z"/><path d="M62.5 267.8h6.1l-3.0 -5.7z"/><path d="M62.8 267.4h6.1l-3.0 -5.7z"/><path d="M63.1 267.0h6.1l-3.0 -5.7z"/><path d="M63.4 266.6h6.1l-3.0 -5.7z"/><path d="M63.8 266.2h6.1l-3.0 -5.7z"/><path d="M64.2 265.8h6.1l-3.0 -5.7z"/><path d="M64.6 265.3h6.1l-3.0 -5.7z"/><path d="M65.0 264.8h6.1l-3.0 -5.7z"/><path d="M65.5 264.3h6.1l-3.0 -5.7z"/><path d="M66.0 263.8h6.1l-3.0 -5.7z"/><path d="M66.5 263.2h6.1l-3.0 -5.7z"/><path d="M67.1 262.6h6.1l-3.0 -5.7z"/><path d="M67.7 262.0h6.1l-3.0 -5.7z"/><path d="M68.4 261.3h6.1l-3.0 -5.7z"/><path d="M69.1 260.5h6.1l-3.0 -5.7z"/><path d="M70.0 259.7h6.1l-3.0 -5.7z"/><path d="M70.9 258.9h6.1l-3.0 -5.7z"/><path d="M71.9 258.0h6.1l-3.0 -5.7z"/><path d="M73.0 257.0h6.1l-3.0 -5.7z"/><path d="M74.2 256.0h6.1l-3.0 -5.7z"/><path d="M75.5 254.8h6.1l-3.0 -5.7z"/><path d="M76.9 253.5h6.1l-3.0 -5.7z"/><path d="M78.4 252.2h6.1l-3.0 -5.7z"/><path d="M80.0 250.8h6.1l-3.0 -5.7z"/><path d="M81.8 249.3h6.1l-3.0 -5.7z"/><path d="M83.7 247.7h6.1l-3.0 -5.7z"/><path d="M85.8 246.1h6.1l-3.0 -5.7z"/><path d="M88.1 244.5h6.1l-3.0 -5.7z"/><path d="M90.5 242.9h6.1l-3.0 -5.7z"/><path d="M93.2 241.1h6.1l-3.0 -5.7z"/><path d="M96.0 239.3h6.1l-3.0 -5.7z"/><path d="M98.9 237.5h6.1l-3.0 -5.7z"/><path d="M102.1 235.7h6.1l-3.0 -5.7z"/><path d="M105.5 233.9h6.1l-3.0 -5.7z"/><path d="M109.1 232.0h6.1l-3.0 -5.7z"/><path d="M112.8 229.9h6.1l-3.0 -5.7z"/><path d="M116.7 227.7h6.1l-3.0 -5.7z"/><path d="M120.8 225.8h6.1l-3.0 -5.7z"/><path d="M125.2 224.1h6.1l-3.0 -5.7z"/><path d="M129.3 222.2h6.1l-3.0 -5.7z"/><path d="M134.1 220.6h6.1l-3.0 -5.7z"/><path d="M139.1 218.5h6.1l-3.0 -5.7z"/><path d="M144.3 217.2h6.1l-3.0 -5.7z"/><path d="M149.4 216.1h6.1l-3.0 -5.7z"/><path d="M154.6 215.4h6.1l-3.0 -5.7z"/><path d="M160.7 214.9h6.1l-3.0 -5.7z"/><path d="M165.7 215.0h6.1l-3.0 -5.7z"/><path d="M171.2 213.6h6.1l-3.0 -5.7z"/><path d="M176.4 213.6h6.1l-3.0 -5.7z"/><path d="M182.4 212.9h6.1l-3.0 -5.7z"/><path d="M187.1 213.6h6.1l-3.0 -5.7z"/><path d="M193.4 214.0h6.1l-3.0 -5.7z"/><path d="M198.3 214.2h6.1l-3.0 -5.7z"/><path d="M203.8 217.3h6.1l-3.0 -5.7z"/><path d="M209.2 216.1h6.1l-3.0 -5.7z"/><path d="M214.4 218.6h6.1l-3.0 -5.7z"/><path d="M220.1 220.5h6.1l-3.0 -5.7z"/><path d="M223.1 222.9h6.1l-3.0 -5.7z"/><path d="M227.6 224.7h6.1l-3.0 -5.7z"/><path d="M231.5 226.3h6.1l-3.0 -5.7z"/><path d="M235.0 228.2h6.1l-3.0 -5.7z"/><path d="M238.2 230.2h6.1l-3.0 -5.7z"/><path d="M242.1 232.4h6.1l-3.0 -5.7z"/><path d="M245.5 235.0h6.1l-3.0 -5.7z"/><path d="M249.2 237.1h6.1l-3.0 -5.7z"/><path d="M251.8 240.0h6.1l-3.0 -5.7z"/><path d="M254.3 241.7h6.1l-3.0 -5.7z"/><path d="M257.4 242.0h6.1l-3.0 -5.7z"/><path d="M260.1 245.6h6.1l-3.0 -5.7z"/><path d="M259.2 248.9h6.1l-3.0 -5.7z"/><path d="M263.1 251.3h6.1l-3.0 -5.7z"/><path d="M265.3 251.9h6.1l-3.0 -5.7z"/><path d="M268.4 253.0h6.1l-3.0 -5.7z"/><path d="M269.1 255.4h6.1l-3.0 -5.7z"/><path d="M272.6 258.4h6.1l-3.0 -5.7z"/><path d="M274.3 259.0h6.1l-3.0 -5.7z"/><path d="M275.2 261.1h6.1l-3.0 -5.7z"/><path d="M276.5 260.0h6.1l-3.0 -5.7z"/><path d="M277.8 261.4h6.1l-3.0 -5.7z"/><path d="M277.7 263.0h6.1l-3.0 -5.7z"/><path d="M279.1 264.6h6.1l-3.0 -5.7z"/><path d="M280.2 263.6h6.1l-3.0 -5.7z"/><path d="M280.7 264.0h6.1l-3.0 -5.7z"/><path d="M281.2 266.6h6.1l-3.0 -5.7z"/><path d="M282.3 265.0h6.1l-3.0 -5.7z"/><path d="M282.3 265.0h6.1l-3.0 -5.7z"/><path d="M282.9 264.2h6.1l-3.0 -5.7z"/><path d="M283.9 265.9h6.1l-3.0 -5.7z"/><path d="M284.4 267.5h6.1l-3.0 -5.7z"/><path d="M284.6 265.3h6.1l-3.0 -5.7z"/><path d="M283.9 267.7h6.1l-3.0 -5.7z"/><path d="M285.8 265.2h6.1l-3.0 -5.7z"/><path d="M284.9 268.3h6.1l-3.0 -5.7z"/><path d="M286.0 269.6h6.1l-3.0 -5.7z"/><path d="M286.7 268.4h6.1l-3.0 -5.7z"/><path d="M286.7 266.8h6.1l-3.0 -5.7z"/><path d="M286.0 264.2h6.1l-3.0 -5.7z"/><path d="M288.2 268.5h6.1l-3.0 -5.7z"/><path d="M287.4 268.9h6.1l-3.0 -5.7z"/><path d="M287.0 269.6h6.1l-3.0 -5.7z"/><path d="M288.8 269.8h6.1l-3.0 -5.7z"/><path d="M287.5 269.6h6.1l-3.0 -5.7z"/><path d="M289.6 268.3h6.1l-3.0 -5.7z"/></g>
<rect x="63.2" y="7.1" width="320.4" height="260.2" fill="none" stroke="#111" stroke-width="1.1"/>
<path d="M109 267.3v-5.5M154.7 267.3v-5.5M200.5 267.3v-5.5M246.3 267.3v-5.5M292.1 267.3v-5.5M337.8 267.3v-5.5" stroke="#111" stroke-width="1.0" fill="none"/>
<path d="M86.1 267.3v-3M131.9 267.3v-3M177.6 267.3v-3M223.4 267.3v-3M269.2 267.3v-3M314.9 267.3v-3M360.7 267.3v-3" stroke="#111" stroke-width="1.0" fill="none"/>
<path d="M63.2 230.1h5.5M63.2 193h5.5M63.2 155.8h5.5M63.2 118.6h5.5M63.2 81.4h5.5M63.2 44.3h5.5" stroke="#111" stroke-width="1.0" fill="none"/>
<path d="M63.2 248.7h3M63.2 211.5h3M63.2 174.4h3M63.2 137.2h3M63.2 100h3M63.2 62.9h3M63.2 25.7h3" stroke="#111" stroke-width="1.0" fill="none"/>
<text x="64.6" y="287" font-size="18.4" text-anchor="middle">0</text>
<text x="60.9" y="272.9" font-size="18.4" text-anchor="end">0</text>
<text x="109.8" y="287" font-size="18.4" text-anchor="middle">0.02</text>
<text x="57.5" y="236.3" font-size="18.4" text-anchor="end">0.02</text>
<text x="155.5" y="287" font-size="18.4" text-anchor="middle">0.04</text>
<text x="57.5" y="199.2" font-size="18.4" text-anchor="end">0.04</text>
<text x="201.3" y="287" font-size="18.4" text-anchor="middle">0.06</text>
<text x="57.5" y="162" font-size="18.4" text-anchor="end">0.06</text>
<text x="247.1" y="287" font-size="18.4" text-anchor="middle">0.08</text>
<text x="57.5" y="124.8" font-size="18.4" text-anchor="end">0.08</text>
<text x="292.9" y="287" font-size="18.4" text-anchor="middle">0.10</text>
<text x="57.5" y="87.6" font-size="18.4" text-anchor="end">0.10</text>
<text x="338.6" y="287" font-size="18.4" text-anchor="middle">0.12</text>
<text x="57.5" y="50.5" font-size="18.4" text-anchor="end">0.12</text>
<text x="384.4" y="287" font-size="18.4" text-anchor="middle">0.14</text>
<text x="57.5" y="13.3" font-size="18.4" text-anchor="end">0.14</text>
<text x="235.3" y="306.2" font-size="18.4" text-anchor="middle">Re(<tspan font-style="italic">Z</tspan>) / (Ω·cm<tspan font-size="11" dy="-6">2</tspan><tspan dy="6">)</tspan></text>
<text transform="translate(14.3 135.2) rotate(-90)" font-size="18.3" text-anchor="middle">-Im(<tspan font-style="italic">Z</tspan>) / (Ω·cm<tspan font-size="11" dy="-6">2</tspan><tspan dy="6">)</tspan></text>
<text x="71.6" y="29.8" font-size="18.2" text-anchor="start">(a)<tspan dx="4.7">Air</tspan></text>
<path d="M285.0 21.9h7.0l-3.5 6.6z" fill="#fff" stroke="#a55fa3" stroke-width="1.1"/>
<text x="299.9" y="30.6" font-size="18.2" text-anchor="start">L<tspan font-size="11.4" dy="3.5">0.1</tspan><tspan dy="-3.5">SFNM</tspan></text>
<path d="M285.8 48.8a2.7 2.7 0 1 0 5.4 0a2.7 2.7 0 1 0 -5.4 0z" fill="#fff" stroke="#e0141e" stroke-width="1.1"/>
<text x="299.9" y="54.7" font-size="18.2" text-anchor="start">L<tspan font-size="11.4" dy="3.5">0.2</tspan><tspan dy="-3.5">SFNM</tspan></text>
<path d="M285.9 70.8h5.1v5.1h-5.1z" fill="#fff" stroke="#111111" stroke-width="1.1"/>
<text x="299.9" y="79.3" font-size="18.2" text-anchor="start">L<tspan font-size="11.4" dy="3.5">0.3</tspan><tspan dy="-3.5">SFNM</tspan></text>
<path d="M285.0 100.5h7.0l-3.5 -6.6z" fill="#fff" stroke="#1f47a3" stroke-width="1.1"/>
<text x="299.9" y="103.6" font-size="18.2" text-anchor="start">L<tspan font-size="11.4" dy="3.5">0.4</tspan><tspan dy="-3.5">SFNM</tspan></text>
<clipPath id="cc"><rect x="466.5" y="7" width="320.1" height="261.2"/></clipPath>
<g fill="#fff" stroke="#111111" stroke-width="1.1" clip-path="url(#cc)"><path fill="none" stroke-width="1.2" d="M471.0 268.5L471.5 268.1L472.1 267.8L472.6 267.4L473.1 267.0L473.6 266.7L474.2 266.3L474.7 265.9L475.2 265.6L475.7 265.2L476.3 264.8L476.8 264.5L477.3 264.1L477.8 263.7L478.4 263.4L478.9 263.0L479.4 262.6L479.9 262.3L480.5 261.9L481.0 261.5L481.5 261.1L482.0 260.8L482.5 260.4L483.1 260.0L483.6 259.7L484.1 259.3L484.6 258.9L485.1 258.5L485.7 258.2L486.2 257.8L486.7 257.4L487.2 257.0L487.7 256.6L488.2 256.3L488.8 255.9L489.3 255.5L489.8 255.1L490.3 254.7L490.8 254.3L491.3 254.0L491.8 253.6L492.4 253.2L492.9 252.8L493.4 252.4L493.9 252.0L494.4 251.7L494.9 251.3L495.5 250.9L496.0 250.6L496.5 250.2L497.0 249.8L497.6 249.5L498.1 249.1L498.6 248.7L499.1 248.4L499.7 248.0L500.2 247.6L500.7 247.3L501.3 246.9L501.8 246.5L502.3 246.2L502.9 245.8L503.4 245.5L503.9 245.1L504.5 244.7L505.0 244.4L505.5 244.0L506.1 243.7L506.6 243.3L507.2 243.0L507.7 242.6L508.2 242.3L508.8 241.9L509.3 241.6L509.9 241.3L510.4 240.9L511.0 240.6L511.5 240.3L512.1 240.0L512.7 239.7L513.2 239.4L513.8 239.1L514.3 238.8L514.9 238.5L515.5 238.3L516.1 238.0L516.6 237.7L517.2 237.5L517.8 237.2L518.4 237.0L519.0 236.7L519.6 236.5L520.2 236.3L520.8 236.0L521.4 235.8L522.0 235.6L522.6 235.4L523.2 235.2L523.8 235.0L524.4 234.8L525.1 234.6L525.7 234.4L526.3 234.2L526.9 234.0L527.5 233.8L528.1 233.6L528.7 233.4L529.4 233.3L530.0 233.1L530.6 232.9L531.2 232.8L531.8 232.6L532.5 232.5L533.1 232.4L533.7 232.2L534.3 232.1L535.0 232.0L535.6 231.8L536.2 231.7L536.9 231.6L537.5 231.5L538.1 231.4L538.8 231.3L539.4 231.2L540.0 231.1L540.7 231.1L541.3 231.0L542.0 231.0L542.6 231.0L543.2 231.0L543.9 230.9L544.5 230.9L545.1 230.9L545.8 230.9L546.4 230.9L547.1 230.9L547.7 230.9L548.4 230.8L549.0 230.8L549.6 230.8L550.3 230.8L550.9 230.8L551.6 230.8L552.2 230.8L552.8 230.8L553.5 230.8L554.1 230.8L554.8 230.8L555.4 230.8L556.1 230.8L556.7 230.8L557.3 230.8L558.0 230.9L558.6 230.9L559.3 230.9L559.9 231.0L560.5 231.0L561.2 231.0L561.8 231.1L562.5 231.1L563.1 231.2L563.7 231.2L564.4 231.3L565.0 231.3L565.6 231.4L566.3 231.4L566.9 231.5L567.6 231.6L568.2 231.7L568.8 231.8L569.5 231.9L570.1 232.0L570.7 232.2L571.3 232.3L572.0 232.5L572.6 232.6L573.2 232.8L573.8 232.9L574.5 233.1L575.1 233.2L575.7 233.4L576.3 233.6L576.9 233.7L577.6 233.9L578.2 234.1L578.8 234.4L579.4 234.6L580.0 234.8L580.6 235.1L581.2 235.3L581.8 235.6L582.3 235.8L582.9 236.1L583.5 236.4L584.0 236.7L584.6 237.0L585.1 237.3L585.6 237.7L586.2 238.0L586.7 238.4L587.2 238.8L587.8 239.2L588.3 239.6L588.8 240.0L589.3 240.3L589.8 240.7L590.3 241.1L590.8 241.5L591.3 241.9L591.8 242.3L592.3 242.7L592.8 243.1L593.3 243.6L593.8 244.0L594.2 244.4L594.7 244.9L595.2 245.3L595.7 245.7L596.1 246.2L596.6 246.6L597.1 247.1L597.5 247.5L598.0 248.0L598.4 248.4L598.9 248.8L599.4 249.3L599.8 249.7L600.3 250.2L600.8 250.6L601.3 251.1L601.7 251.5L602.2 251.9L602.7 252.4L603.2 252.8L603.7 253.2L604.1 253.7L604.6 254.1L605.0 254.6L605.4 255.1L605.8 255.6L606.2 256.1L606.5 256.6L606.9 257.1L607.2 257.7L607.5 258.2L607.8 258.8L608.1 259.4L608.3 260.0L608.6 260.6L608.8 261.2"/><path d="M468.3 265.8h5.4v5.4h-5.4z"/><path d="M468.6 265.6h5.4v5.4h-5.4z"/><path d="M468.9 265.4h5.4v5.4h-5.4z"/><path d="M469.2 265.2h5.4v5.4h-5.4z"/><path d="M469.6 264.9h5.4v5.4h-5.4z"/><path d="M470.0 264.6h5.4v5.4h-5.4z"/><path d="M470.4 264.3h5.4v5.4h-5.4z"/><path d="M470.9 264.0h5.4v5.4h-5.4z"/><path d="M471.4 263.7h5.4v5.4h-5.4z"/><path d="M471.9 263.3h5.4v5.4h-5.4z"/><path d="M472.5 262.9h5.4v5.4h-5.4z"/><path d="M473.1 262.5h5.4v5.4h-5.4z"/><path d="M473.8 262.0h5.4v5.4h-5.4z"/><path d="M474.5 261.5h5.4v5.4h-5.4z"/><path d="M475.3 260.9h5.4v5.4h-5.4z"/><path d="M476.2 260.3h5.4v5.4h-5.4z"/><path d="M477.1 259.6h5.4v5.4h-5.4z"/><path d="M478.2 258.9h5.4v5.4h-5.4z"/><path d="M479.4 258.1h5.4v5.4h-5.4z"/><path d="M480.6 257.1h5.4v5.4h-5.4z"/><path d="M482.1 256.1h5.4v5.4h-5.4z"/><path d="M483.7 255.0h5.4v5.4h-5.4z"/><path d="M485.4 253.7h5.4v5.4h-5.4z"/><path d="M487.1 252.4h5.4v5.4h-5.4z"/><path d="M488.9 251.1h5.4v5.4h-5.4z"/><path d="M490.6 249.8h5.4v5.4h-5.4z"/><path d="M492.3 248.5h5.4v5.4h-5.4z"/><path d="M494.0 247.3h5.4v5.4h-5.4z"/><path d="M495.8 246.1h5.4v5.4h-5.4z"/><path d="M497.5 245.0h5.4v5.4h-5.4z"/><path d="M499.2 243.8h5.4v5.4h-5.4z"/><path d="M501.1 242.5h5.4v5.4h-5.4z"/><path d="M503.0 241.2h5.4v5.4h-5.4z"/><path d="M505.1 239.9h5.4v5.4h-5.4z"/><path d="M507.3 238.5h5.4v5.4h-5.4z"/><path d="M509.7 237.1h5.4v5.4h-5.4z"/><path d="M512.3 235.8h5.4v5.4h-5.4z"/><path d="M515.1 234.5h5.4v5.4h-5.4z"/><path d="M518.1 233.3h5.4v5.4h-5.4z"/><path d="M521.3 232.2h5.4v5.4h-5.4z"/><path d="M524.8 231.1h5.4v5.4h-5.4z"/><path d="M528.4 230.1h5.4v5.4h-5.4z"/><path d="M532.4 229.2h5.4v5.4h-5.4z"/><path d="M536.6 228.5h5.4v5.4h-5.4z"/><path d="M541.1 228.2h5.4v5.4h-5.4z"/><path d="M545.7 228.1h5.4v5.4h-5.4z"/><path d="M550.3 228.1h5.4v5.4h-5.4z"/><path d="M554.9 228.2h5.4v5.4h-5.4z"/><path d="M559.5 228.4h5.4v5.4h-5.4z"/><path d="M564.1 228.8h5.4v5.4h-5.4z"/><path d="M568.5 229.6h5.4v5.4h-5.4z"/><path d="M572.6 230.6h5.4v5.4h-5.4z"/><path d="M576.4 231.8h5.4v5.4h-5.4z"/><path d="M579.9 233.3h5.4v5.4h-5.4z"/><path d="M583.0 235.0h5.4v5.4h-5.4z"/><path d="M585.7 237.0h5.4v5.4h-5.4z"/><path d="M588.2 238.9h5.4v5.4h-5.4z"/><path d="M590.4 240.7h5.4v5.4h-5.4z"/><path d="M592.4 242.5h5.4v5.4h-5.4z"/><path d="M594.2 244.2h5.4v5.4h-5.4z"/><path d="M595.9 245.8h5.4v5.4h-5.4z"/><path d="M597.4 247.3h5.4v5.4h-5.4z"/><path d="M598.8 248.6h5.4v5.4h-5.4z"/><path d="M600.2 249.8h5.4v5.4h-5.4z"/><path d="M601.4 250.9h5.4v5.4h-5.4z"/><path d="M602.4 252.0h5.4v5.4h-5.4z"/><path d="M603.3 253.1h5.4v5.4h-5.4z"/><path d="M604.0 254.2h5.4v5.4h-5.4z"/><path d="M604.6 255.2h5.4v5.4h-5.4z"/><path d="M605.2 256.2h5.4v5.4h-5.4z"/><path d="M605.6 257.2h5.4v5.4h-5.4z"/><path d="M606.0 258.2h5.4v5.4h-5.4z"/><path d="M606.3 259.0h5.4v5.4h-5.4z"/></g>
<g fill="#fff" stroke="#e0141e" stroke-width="1.1" clip-path="url(#cc)"><path fill="none" stroke-width="1.2" d="M470.0 268.5L470.7 268.0L471.4 267.5L472.2 267.0L472.9 266.5L473.6 266.0L474.3 265.5L475.0 265.0L475.8 264.4L476.5 263.9L477.2 263.4L477.9 262.9L478.6 262.4L479.3 261.9L480.0 261.3L480.7 260.8L481.5 260.3L482.2 259.8L482.9 259.3L483.6 258.7L484.3 258.2L485.0 257.7L485.7 257.1L486.4 256.6L487.1 256.1L487.8 255.5L488.4 255.0L489.1 254.4L489.8 253.8L490.5 253.3L491.2 252.7L491.9 252.2L492.5 251.6L493.2 251.1L493.9 250.5L494.6 250.0L495.3 249.4L496.0 248.9L496.7 248.4L497.4 247.9L498.1 247.3L498.9 246.8L499.6 246.3L500.3 245.8L501.0 245.3L501.7 244.8L502.5 244.3L503.2 243.8L503.9 243.3L504.6 242.8L505.4 242.3L506.1 241.8L506.9 241.3L507.6 240.8L508.3 240.4L509.1 239.9L509.8 239.4L510.6 239.0L511.3 238.5L512.1 238.1L512.9 237.6L513.6 237.2L514.4 236.8L515.2 236.4L516.0 236.0L516.7 235.6L517.5 235.2L518.3 234.9L519.1 234.5L519.9 234.1L520.7 233.8L521.5 233.4L522.3 233.1L523.2 232.7L524.0 232.4L524.8 232.1L525.6 231.7L526.4 231.4L527.3 231.1L528.1 230.7L528.9 230.4L529.7 230.1L530.5 229.8L531.4 229.5L532.2 229.2L533.0 228.9L533.8 228.6L534.7 228.3L535.5 228.0L536.3 227.7L537.2 227.4L538.0 227.2L538.8 226.9L539.7 226.6L540.5 226.3L541.4 226.1L542.2 225.8L543.0 225.5L543.9 225.3L544.7 225.0L545.6 224.8L546.4 224.5L547.3 224.2L548.1 224.0L548.9 223.7L549.7 223.3L550.5 223.0L551.3 222.6L552.1 222.2L552.9 221.9L553.7 221.5L554.6 221.2L555.4 220.9L556.2 220.6L557.1 220.4L557.9 220.1L558.7 219.8L559.6 219.6L560.4 219.4L561.3 219.2L562.2 218.9L563.0 218.7L563.9 218.6L564.7 218.4L565.6 218.2L566.5 218.0L567.3 217.8L568.2 217.7L569.1 217.5L569.9 217.4L570.8 217.3L571.7 217.1L572.5 217.0L573.4 216.9L574.3 216.8L575.2 216.8L576.0 216.7L576.9 216.6L577.8 216.5L578.7 216.5L579.6 216.4L580.4 216.4L581.3 216.3L582.2 216.3L583.1 216.3L584.0 216.3L584.8 216.3L585.7 216.3L586.6 216.3L587.5 216.3L588.4 216.3L589.2 216.3L590.1 216.3L591.0 216.3L591.9 216.4L592.8 216.5L593.6 216.6L594.5 216.7L595.4 216.8L596.3 216.9L597.1 217.1L598.0 217.2L598.9 217.3L599.7 217.5L600.6 217.6L601.5 217.8L602.3 218.0L603.2 218.2L604.0 218.4L604.9 218.6L605.7 218.8L606.6 219.0L607.5 219.3L608.3 219.5L609.2 219.8L610.0 220.0L610.8 220.2L611.7 220.5L612.5 220.7L613.4 221.0L614.2 221.3L615.0 221.5L615.9 221.8L616.7 222.1L617.6 222.4L618.4 222.7L619.2 223.0L620.0 223.3L620.9 223.6L621.7 223.9L622.5 224.3L623.3 224.6L624.1 224.9L624.9 225.3L625.7 225.6L626.5 226.0L627.3 226.4L628.1 226.7L628.9 227.1L629.7 227.5L630.5 227.9L631.3 228.3L632.1 228.7L632.9 229.1L633.6 229.6L634.4 230.0L635.2 230.4L635.9 230.9L636.7 231.4L637.4 231.8L638.2 232.3L638.9 232.8L639.6 233.3L640.4 233.7L641.1 234.3L641.8 234.8L642.5 235.3L643.2 235.8L643.9 236.4L644.6 236.9L645.2 237.5L645.9 238.1L646.6 238.7L647.2 239.3L647.9 239.8L648.6 240.4L649.2 241.0L649.8 241.7L650.5 242.3L651.1 242.9L651.7 243.5L652.3 244.1L653.0 244.8L653.6 245.4L654.2 246.1L654.8 246.7L655.4 247.4L655.9 248.1L656.5 248.7L657.0 249.4L657.5 250.1L658.0 250.8L658.5 251.6L659.0 252.3L659.4 253.1L659.8 253.8L660.3 254.6L660.7 255.4L661.0 256.2L661.4 257.0"/><path d="M467.1 268.5a3.0 3.0 0 1 0 5.9 0a3.0 3.0 0 1 0 -5.9 0z"/><path d="M467.3 268.3a3.0 3.0 0 1 0 5.9 0a3.0 3.0 0 1 0 -5.9 0z"/><path d="M467.6 268.1a3.0 3.0 0 1 0 5.9 0a3.0 3.0 0 1 0 -5.9 0z"/><path d="M468.0 267.9a3.0 3.0 0 1 0 5.9 0a3.0 3.0 0 1 0 -5.9 0z"/><path d="M468.3 267.6a3.0 3.0 0 1 0 5.9 0a3.0 3.0 0 1 0 -5.9 0z"/><path d="M468.7 267.4a3.0 3.0 0 1 0 5.9 0a3.0 3.0 0 1 0 -5.9 0z"/><path d="M469.1 267.1a3.0 3.0 0 1 0 5.9 0a3.0 3.0 0 1 0 -5.9 0z"/><path d="M469.5 266.8a3.0 3.0 0 1 0 5.9 0a3.0 3.0 0 1 0 -5.9 0z"/><path d="M469.9 266.5a3.0 3.0 0 1 0 5.9 0a3.0 3.0 0 1 0 -5.9 0z"/><path d="M470.3 266.2a3.0 3.0 0 1 0 5.9 0a3.0 3.0 0 1 0 -5.9 0z"/><path d="M470.8 265.9a3.0 3.0 0 1 0 5.9 0a3.0 3.0 0 1 0 -5.9 0z"/><path d="M471.3 265.5a3.0 3.0 0 1 0 5.9 0a3.0 3.0 0 1 0 -5.9 0z"/><path d="M471.9 265.1a3.0 3.0 0 1 0 5.9 0a3.0 3.0 0 1 0 -5.9 0z"/><path d="M472.4 264.7a3.0 3.0 0 1 0 5.9 0a3.0 3.0 0 1 0 -5.9 0z"/><path d="M473.0 264.3a3.0 3.0 0 1 0 5.9 0a3.0 3.0 0 1 0 -5.9 0z"/><path d="M473.7 263.8a3.0 3.0 0 1 0 5.9 0a3.0 3.0 0 1 0 -5.9 0z"/><path d="M474.3 263.4a3.0 3.0 0 1 0 5.9 0a3.0 3.0 0 1 0 -5.9 0z"/><path d="M475.0 262.8a3.0 3.0 0 1 0 5.9 0a3.0 3.0 0 1 0 -5.9 0z"/><path d="M475.8 262.3a3.0 3.0 0 1 0 5.9 0a3.0 3.0 0 1 0 -5.9 0z"/><path d="M476.6 261.7a3.0 3.0 0 1 0 5.9 0a3.0 3.0 0 1 0 -5.9 0z"/><path d="M477.4 261.1a3.0 3.0 0 1 0 5.9 0a3.0 3.0 0 1 0 -5.9 0z"/><path d="M478.4 260.4a3.0 3.0 0 1 0 5.9 0a3.0 3.0 0 1 0 -5.9 0z"/><path d="M479.3 259.7a3.0 3.0 0 1 0 5.9 0a3.0 3.0 0 1 0 -5.9 0z"/><path d="M480.4 258.9a3.0 3.0 0 1 0 5.9 0a3.0 3.0 0 1 0 -5.9 0z"/><path d="M481.5 258.0a3.0 3.0 0 1 0 5.9 0a3.0 3.0 0 1 0 -5.9 0z"/><path d="M482.8 257.1a3.0 3.0 0 1 0 5.9 0a3.0 3.0 0 1 0 -5.9 0z"/><path d="M484.1 256.1a3.0 3.0 0 1 0 5.9 0a3.0 3.0 0 1 0 -5.9 0z"/><path d="M485.5 255.0a3.0 3.0 0 1 0 5.9 0a3.0 3.0 0 1 0 -5.9 0z"/><path d="M486.9 253.8a3.0 3.0 0 1 0 5.9 0a3.0 3.0 0 1 0 -5.9 0z"/><path d="M488.6 252.5a3.0 3.0 0 1 0 5.9 0a3.0 3.0 0 1 0 -5.9 0z"/><path d="M490.3 251.1a3.0 3.0 0 1 0 5.9 0a3.0 3.0 0 1 0 -5.9 0z"/><path d="M492.0 249.7a3.0 3.0 0 1 0 5.9 0a3.0 3.0 0 1 0 -5.9 0z"/><path d="M493.8 248.3a3.0 3.0 0 1 0 5.9 0a3.0 3.0 0 1 0 -5.9 0z"/><path d="M495.7 247.0a3.0 3.0 0 1 0 5.9 0a3.0 3.0 0 1 0 -5.9 0z"/><path d="M497.6 245.6a3.0 3.0 0 1 0 5.9 0a3.0 3.0 0 1 0 -5.9 0z"/><path d="M499.6 244.3a3.0 3.0 0 1 0 5.9 0a3.0 3.0 0 1 0 -5.9 0z"/><path d="M501.5 242.9a3.0 3.0 0 1 0 5.9 0a3.0 3.0 0 1 0 -5.9 0z"/><path d="M503.6 241.5a3.0 3.0 0 1 0 5.9 0a3.0 3.0 0 1 0 -5.9 0z"/><path d="M505.6 240.2a3.0 3.0 0 1 0 5.9 0a3.0 3.0 0 1 0 -5.9 0z"/><path d="M507.8 238.9a3.0 3.0 0 1 0 5.9 0a3.0 3.0 0 1 0 -5.9 0z"/><path d="M510.1 237.6a3.0 3.0 0 1 0 5.9 0a3.0 3.0 0 1 0 -5.9 0z"/><path d="M512.5 236.3a3.0 3.0 0 1 0 5.9 0a3.0 3.0 0 1 0 -5.9 0z"/><path d="M515.1 235.0a3.0 3.0 0 1 0 5.9 0a3.0 3.0 0 1 0 -5.9 0z"/><path d="M517.8 233.8a3.0 3.0 0 1 0 5.9 0a3.0 3.0 0 1 0 -5.9 0z"/><path d="M520.7 232.5a3.0 3.0 0 1 0 5.9 0a3.0 3.0 0 1 0 -5.9 0z"/><path d="M523.8 231.3a3.0 3.0 0 1 0 5.9 0a3.0 3.0 0 1 0 -5.9 0z"/><path d="M527.0 230.0a3.0 3.0 0 1 0 5.9 0a3.0 3.0 0 1 0 -5.9 0z"/><path d="M530.5 228.7a3.0 3.0 0 1 0 5.9 0a3.0 3.0 0 1 0 -5.9 0z"/><path d="M534.1 227.5a3.0 3.0 0 1 0 5.9 0a3.0 3.0 0 1 0 -5.9 0z"/><path d="M537.9 226.2a3.0 3.0 0 1 0 5.9 0a3.0 3.0 0 1 0 -5.9 0z"/><path d="M542.0 225.0a3.0 3.0 0 1 0 5.9 0a3.0 3.0 0 1 0 -5.9 0z"/><path d="M546.2 223.6a3.0 3.0 0 1 0 5.9 0a3.0 3.0 0 1 0 -5.9 0z"/><path d="M550.5 221.7a3.0 3.0 0 1 0 5.9 0a3.0 3.0 0 1 0 -5.9 0z"/><path d="M555.1 220.1a3.0 3.0 0 1 0 5.9 0a3.0 3.0 0 1 0 -5.9 0z"/><path d="M560.1 218.7a3.0 3.0 0 1 0 5.9 0a3.0 3.0 0 1 0 -5.9 0z"/><path d="M565.4 217.6a3.0 3.0 0 1 0 5.9 0a3.0 3.0 0 1 0 -5.9 0z"/><path d="M570.9 216.9a3.0 3.0 0 1 0 5.9 0a3.0 3.0 0 1 0 -5.9 0z"/><path d="M576.5 216.4a3.0 3.0 0 1 0 5.9 0a3.0 3.0 0 1 0 -5.9 0z"/><path d="M582.1 216.3a3.0 3.0 0 1 0 5.9 0a3.0 3.0 0 1 0 -5.9 0z"/><path d="M587.7 216.3a3.0 3.0 0 1 0 5.9 0a3.0 3.0 0 1 0 -5.9 0z"/><path d="M593.3 216.9a3.0 3.0 0 1 0 5.9 0a3.0 3.0 0 1 0 -5.9 0z"/><path d="M598.8 217.9a3.0 3.0 0 1 0 5.9 0a3.0 3.0 0 1 0 -5.9 0z"/><path d="M604.1 219.2a3.0 3.0 0 1 0 5.9 0a3.0 3.0 0 1 0 -5.9 0z"/><path d="M609.1 220.6a3.0 3.0 0 1 0 5.9 0a3.0 3.0 0 1 0 -5.9 0z"/><path d="M613.8 222.1a3.0 3.0 0 1 0 5.9 0a3.0 3.0 0 1 0 -5.9 0z"/><path d="M618.3 223.8a3.0 3.0 0 1 0 5.9 0a3.0 3.0 0 1 0 -5.9 0z"/><path d="M622.4 225.5a3.0 3.0 0 1 0 5.9 0a3.0 3.0 0 1 0 -5.9 0z"/><path d="M626.3 227.3a3.0 3.0 0 1 0 5.9 0a3.0 3.0 0 1 0 -5.9 0z"/><path d="M629.8 229.1a3.0 3.0 0 1 0 5.9 0a3.0 3.0 0 1 0 -5.9 0z"/><path d="M633.1 231.0a3.0 3.0 0 1 0 5.9 0a3.0 3.0 0 1 0 -5.9 0z"/><path d="M636.1 232.8a3.0 3.0 0 1 0 5.9 0a3.0 3.0 0 1 0 -5.9 0z"/><path d="M638.8 234.7a3.0 3.0 0 1 0 5.9 0a3.0 3.0 0 1 0 -5.9 0z"/><path d="M641.2 236.6a3.0 3.0 0 1 0 5.9 0a3.0 3.0 0 1 0 -5.9 0z"/><path d="M643.4 238.5a3.0 3.0 0 1 0 5.9 0a3.0 3.0 0 1 0 -5.9 0z"/><path d="M645.4 240.3a3.0 3.0 0 1 0 5.9 0a3.0 3.0 0 1 0 -5.9 0z"/><path d="M647.2 242.0a3.0 3.0 0 1 0 5.9 0a3.0 3.0 0 1 0 -5.9 0z"/><path d="M648.8 243.6a3.0 3.0 0 1 0 5.9 0a3.0 3.0 0 1 0 -5.9 0z"/><path d="M650.3 245.1a3.0 3.0 0 1 0 5.9 0a3.0 3.0 0 1 0 -5.9 0z"/><path d="M651.7 246.6a3.0 3.0 0 1 0 5.9 0a3.0 3.0 0 1 0 -5.9 0z"/><path d="M652.9 248.0a3.0 3.0 0 1 0 5.9 0a3.0 3.0 0 1 0 -5.9 0z"/><path d="M654.0 249.3a3.0 3.0 0 1 0 5.9 0a3.0 3.0 0 1 0 -5.9 0z"/><path d="M654.9 250.6a3.0 3.0 0 1 0 5.9 0a3.0 3.0 0 1 0 -5.9 0z"/><path d="M655.8 251.9a3.0 3.0 0 1 0 5.9 0a3.0 3.0 0 1 0 -5.9 0z"/><path d="M656.5 253.1a3.0 3.0 0 1 0 5.9 0a3.0 3.0 0 1 0 -5.9 0z"/><path d="M657.2 254.3a3.0 3.0 0 1 0 5.9 0a3.0 3.0 0 1 0 -5.9 0z"/><path d="M657.8 255.5a3.0 3.0 0 1 0 5.9 0a3.0 3.0 0 1 0 -5.9 0z"/><path d="M658.3 256.6a3.0 3.0 0 1 0 5.9 0a3.0 3.0 0 1 0 -5.9 0z"/><path d="M658.7 257.7a3.0 3.0 0 1 0 5.9 0a3.0 3.0 0 1 0 -5.9 0z"/></g>
<g fill="#fff" stroke="#1f47a3" stroke-width="1.1" clip-path="url(#cc)"><path fill="none" stroke-width="1.2" d="M469.0 271.3L469.9 270.7L470.7 270.1L471.6 269.5L472.5 268.9L473.4 268.3L474.2 267.7L475.1 267.1L475.9 266.5L476.8 265.9L477.7 265.3L478.5 264.7L479.4 264.1L480.2 263.4L481.1 262.8L481.9 262.2L482.7 261.6L483.6 260.9L484.4 260.3L485.3 259.7L486.1 259.0L486.9 258.4L487.7 257.7L488.6 257.0L489.4 256.4L490.2 255.7L491.0 255.0L491.8 254.3L492.6 253.7L493.4 253.0L494.2 252.3L495.1 251.7L495.9 251.0L496.7 250.4L497.6 249.8L498.4 249.1L499.3 248.5L500.1 247.9L501.0 247.3L501.8 246.7L502.7 246.1L503.6 245.5L504.5 244.9L505.3 244.3L506.2 243.7L507.1 243.1L508.0 242.6L508.9 242.0L509.8 241.4L510.6 240.9L511.5 240.3L512.4 239.8L513.4 239.3L514.3 238.7L515.2 238.2L516.1 237.7L517.0 237.2L517.9 236.7L518.9 236.2L519.8 235.7L520.7 235.2L521.7 234.8L522.6 234.3L523.6 233.8L524.5 233.4L525.5 232.9L526.4 232.5L527.4 232.0L528.3 231.6L529.3 231.1L530.2 230.7L531.2 230.3L532.2 229.9L533.2 229.5L534.1 229.1L535.1 228.7L536.1 228.3L537.0 227.8L537.9 227.3L538.8 226.7L539.7 226.2L540.6 225.6L541.5 225.0L542.3 224.4L543.2 223.7L544.0 223.1L544.9 222.5L545.8 222.0L546.7 221.4L547.6 220.9L548.5 220.4L549.5 220.0L550.4 219.5L551.4 219.0L552.3 218.6L553.3 218.1L554.2 217.7L555.2 217.3L556.2 216.9L557.2 216.6L558.2 216.2L559.2 215.9L560.2 215.6L561.2 215.3L562.2 215.0L563.2 214.8L564.3 214.5L565.3 214.2L566.3 213.9L567.3 213.7L568.3 213.4L569.3 213.1L570.3 212.8L571.4 212.5L572.4 212.2L573.4 212.0L574.4 211.7L575.4 211.5L576.5 211.3L577.5 211.1L578.5 210.9L579.6 210.7L580.6 210.5L581.7 210.4L582.7 210.2L583.7 210.0L584.8 209.8L585.8 209.7L586.9 209.5L587.9 209.4L588.9 209.3L590.0 209.2L591.0 209.2L592.1 209.1L593.2 209.0L594.2 209.0L595.3 209.0L596.3 209.0L597.4 209.0L598.4 209.0L599.5 209.1L600.5 209.1L601.6 209.1L602.6 209.1L603.7 209.2L604.7 209.2L605.8 209.2L606.8 209.3L607.9 209.4L608.9 209.4L610.0 209.5L611.0 209.6L612.1 209.6L613.1 209.7L614.2 209.8L615.2 209.9L616.3 210.0L617.3 210.1L618.4 210.2L619.4 210.3L620.5 210.5L621.5 210.6L622.6 210.8L623.6 210.9L624.7 211.1L625.7 211.3L626.7 211.5L627.8 211.7L628.8 211.9L629.8 212.1L630.9 212.4L631.9 212.6L632.9 212.8L633.9 213.1L634.9 213.4L635.9 213.7L636.9 214.0L637.9 214.4L638.9 214.7L639.9 215.1L640.9 215.5L641.9 215.9L642.8 216.3L643.8 216.7L644.8 217.1L645.8 217.5L646.7 218.0L647.7 218.4L648.6 218.9L649.6 219.3L650.5 219.8L651.4 220.3L652.4 220.7L653.3 221.2L654.2 221.8L655.2 222.3L656.1 222.8L657.0 223.4L657.9 223.9L658.8 224.5L659.7 225.0L660.5 225.6L661.4 226.2L662.3 226.8L663.1 227.4L664.0 228.0L664.8 228.7L665.6 229.3L666.5 230.0L667.3 230.6L668.1 231.3L668.9 232.0L669.7 232.7L670.5 233.4L671.3 234.2L672.0 234.9L672.8 235.6L673.5 236.4L674.2 237.1L674.9 237.9L675.6 238.7L676.3 239.4L677.0 240.2L677.7 241.1L678.3 241.9L679.0 242.7L679.6 243.6L680.3 244.4L680.9 245.3L681.5 246.1L682.1 247.0L682.7 247.9L683.3 248.8L683.8 249.6L684.4 250.5L685.0 251.4L685.6 252.3L686.1 253.2L686.7 254.1L687.2 255.1L687.7 256.0L688.1 256.9L688.6 257.9L688.9 258.9L689.3 259.8L689.6 260.8L689.9 261.8L690.2 262.8L690.4 263.9L690.6 264.9"/><path d="M465.6 271.2h6.8l-3.4 -6.4z"/><path d="M465.9 271.0h6.8l-3.4 -6.4z"/><path d="M466.2 270.8h6.8l-3.4 -6.4z"/><path d="M466.5 270.6h6.8l-3.4 -6.4z"/><path d="M466.9 270.3h6.8l-3.4 -6.4z"/><path d="M467.2 270.1h6.8l-3.4 -6.4z"/><path d="M467.6 269.8h6.8l-3.4 -6.4z"/><path d="M468.0 269.6h6.8l-3.4 -6.4z"/><path d="M468.4 269.3h6.8l-3.4 -6.4z"/><path d="M468.8 269.0h6.8l-3.4 -6.4z"/><path d="M469.2 268.7h6.8l-3.4 -6.4z"/><path d="M469.7 268.4h6.8l-3.4 -6.4z"/><path d="M470.2 268.0h6.8l-3.4 -6.4z"/><path d="M470.7 267.7h6.8l-3.4 -6.4z"/><path d="M471.2 267.3h6.8l-3.4 -6.4z"/><path d="M471.8 266.9h6.8l-3.4 -6.4z"/><path d="M472.4 266.5h6.8l-3.4 -6.4z"/><path d="M473.0 266.1h6.8l-3.4 -6.4z"/><path d="M473.7 265.6h6.8l-3.4 -6.4z"/><path d="M474.3 265.1h6.8l-3.4 -6.4z"/><path d="M475.0 264.6h6.8l-3.4 -6.4z"/><path d="M475.8 264.1h6.8l-3.4 -6.4z"/><path d="M476.6 263.5h6.8l-3.4 -6.4z"/><path d="M477.4 262.9h6.8l-3.4 -6.4z"/><path d="M478.2 262.2h6.8l-3.4 -6.4z"/><path d="M479.2 261.6h6.8l-3.4 -6.4z"/><path d="M480.2 260.8h6.8l-3.4 -6.4z"/><path d="M481.2 260.0h6.8l-3.4 -6.4z"/><path d="M482.3 259.2h6.8l-3.4 -6.4z"/><path d="M483.5 258.3h6.8l-3.4 -6.4z"/><path d="M484.7 257.3h6.8l-3.4 -6.4z"/><path d="M486.0 256.2h6.8l-3.4 -6.4z"/><path d="M487.4 255.1h6.8l-3.4 -6.4z"/><path d="M488.8 253.8h6.8l-3.4 -6.4z"/><path d="M490.4 252.6h6.8l-3.4 -6.4z"/><path d="M492.1 251.2h6.8l-3.4 -6.4z"/><path d="M493.9 249.8h6.8l-3.4 -6.4z"/><path d="M495.8 248.4h6.8l-3.4 -6.4z"/><path d="M497.8 247.0h6.8l-3.4 -6.4z"/><path d="M500.0 245.5h6.8l-3.4 -6.4z"/><path d="M502.2 244.0h6.8l-3.4 -6.4z"/><path d="M504.6 242.5h6.8l-3.4 -6.4z"/><path d="M507.1 240.9h6.8l-3.4 -6.4z"/><path d="M509.7 239.3h6.8l-3.4 -6.4z"/><path d="M512.5 237.7h6.8l-3.4 -6.4z"/><path d="M515.4 236.1h6.8l-3.4 -6.4z"/><path d="M518.6 234.5h6.8l-3.4 -6.4z"/><path d="M522.0 232.8h6.8l-3.4 -6.4z"/><path d="M525.5 231.2h6.8l-3.4 -6.4z"/><path d="M529.4 229.5h6.8l-3.4 -6.4z"/><path d="M533.4 227.8h6.8l-3.4 -6.4z"/><path d="M537.3 225.3h6.8l-3.4 -6.4z"/><path d="M541.3 222.5h6.8l-3.4 -6.4z"/><path d="M545.8 220.0h6.8l-3.4 -6.4z"/><path d="M550.7 217.6h6.8l-3.4 -6.4z"/><path d="M556.1 215.7h6.8l-3.4 -6.4z"/><path d="M562.0 214.1h6.8l-3.4 -6.4z"/><path d="M568.2 212.3h6.8l-3.4 -6.4z"/><path d="M574.8 210.9h6.8l-3.4 -6.4z"/><path d="M581.9 209.6h6.8l-3.4 -6.4z"/><path d="M589.3 208.9h6.8l-3.4 -6.4z"/><path d="M596.8 208.9h6.8l-3.4 -6.4z"/><path d="M604.3 209.2h6.8l-3.4 -6.4z"/><path d="M611.8 209.8h6.8l-3.4 -6.4z"/><path d="M619.2 210.7h6.8l-3.4 -6.4z"/><path d="M626.6 212.1h6.8l-3.4 -6.4z"/><path d="M633.5 213.9h6.8l-3.4 -6.4z"/><path d="M639.8 216.3h6.8l-3.4 -6.4z"/><path d="M645.5 218.9h6.8l-3.4 -6.4z"/><path d="M650.9 221.6h6.8l-3.4 -6.4z"/><path d="M655.7 224.6h6.8l-3.4 -6.4z"/><path d="M660.1 227.6h6.8l-3.4 -6.4z"/><path d="M664.0 230.6h6.8l-3.4 -6.4z"/><path d="M667.4 233.6h6.8l-3.4 -6.4z"/><path d="M670.4 236.6h6.8l-3.4 -6.4z"/><path d="M673.1 239.5h6.8l-3.4 -6.4z"/><path d="M675.4 242.3h6.8l-3.4 -6.4z"/><path d="M677.4 245.0h6.8l-3.4 -6.4z"/><path d="M679.1 247.5h6.8l-3.4 -6.4z"/><path d="M680.7 249.8h6.8l-3.4 -6.4z"/><path d="M682.1 252.0h6.8l-3.4 -6.4z"/><path d="M683.3 254.1h6.8l-3.4 -6.4z"/><path d="M684.4 256.0h6.8l-3.4 -6.4z"/><path d="M685.2 257.9h6.8l-3.4 -6.4z"/><path d="M685.9 259.7h6.8l-3.4 -6.4z"/><path d="M686.5 261.5h6.8l-3.4 -6.4z"/><path d="M686.9 263.2h6.8l-3.4 -6.4z"/><path d="M687.2 264.8h6.8l-3.4 -6.4z"/><path d="M687.4 265.7h6.8l-3.4 -6.4z"/></g>
<g fill="#fff" stroke="#a55fa3" stroke-width="1.1" clip-path="url(#cc)"><path d="M463.0 262.3h6.9l-3.5 6.5z"/><path d="M463.3 262.1h6.9l-3.5 6.5z"/><path d="M463.7 261.9h6.9l-3.5 6.5z"/><path d="M464.0 261.7h6.9l-3.5 6.5z"/><path d="M464.3 261.6h6.9l-3.5 6.5z"/><path d="M464.7 261.4h6.9l-3.5 6.5z"/><path d="M465.1 261.1h6.9l-3.5 6.5z"/><path d="M465.4 260.9h6.9l-3.5 6.5z"/><path d="M465.8 260.7h6.9l-3.5 6.5z"/><path d="M466.2 260.5h6.9l-3.5 6.5z"/><path d="M466.7 260.2h6.9l-3.5 6.5z"/><path d="M467.1 260.0h6.9l-3.5 6.5z"/><path d="M467.6 259.7h6.9l-3.5 6.5z"/><path d="M468.0 259.4h6.9l-3.5 6.5z"/><path d="M468.5 259.1h6.9l-3.5 6.5z"/><path d="M469.0 258.8h6.9l-3.5 6.5z"/><path d="M469.6 258.5h6.9l-3.5 6.5z"/><path d="M470.1 258.2h6.9l-3.5 6.5z"/><path d="M470.7 257.9h6.9l-3.5 6.5z"/><path d="M471.3 257.5h6.9l-3.5 6.5z"/><path d="M471.9 257.1h6.9l-3.5 6.5z"/><path d="M472.5 256.7h6.9l-3.5 6.5z"/><path d="M473.1 256.3h6.9l-3.5 6.5z"/><path d="M473.8 255.9h6.9l-3.5 6.5z"/><path d="M474.5 255.5h6.9l-3.5 6.5z"/><path d="M475.2 255.0h6.9l-3.5 6.5z"/><path d="M476.0 254.5h6.9l-3.5 6.5z"/><path d="M476.8 254.0h6.9l-3.5 6.5z"/><path d="M477.6 253.5h6.9l-3.5 6.5z"/><path d="M478.4 253.0h6.9l-3.5 6.5z"/><path d="M479.3 252.4h6.9l-3.5 6.5z"/><path d="M480.2 251.8h6.9l-3.5 6.5z"/><path d="M481.2 251.2h6.9l-3.5 6.5z"/><path d="M482.2 250.5h6.9l-3.5 6.5z"/><path d="M483.2 249.7h6.9l-3.5 6.5z"/><path d="M484.3 249.0h6.9l-3.5 6.5z"/><path d="M485.4 248.1h6.9l-3.5 6.5z"/><path d="M486.6 247.3h6.9l-3.5 6.5z"/><path d="M487.8 246.3h6.9l-3.5 6.5z"/><path d="M489.1 245.4h6.9l-3.5 6.5z"/><path d="M490.5 244.4h6.9l-3.5 6.5z"/><path d="M492.0 243.4h6.9l-3.5 6.5z"/><path d="M493.6 242.3h6.9l-3.5 6.5z"/><path d="M495.2 241.3h6.9l-3.5 6.5z"/><path d="M497.0 240.2h6.9l-3.5 6.5z"/><path d="M498.8 239.0h6.9l-3.5 6.5z"/><path d="M500.8 237.8h6.9l-3.5 6.5z"/><path d="M502.9 236.5h6.9l-3.5 6.5z"/><path d="M505.1 235.0h6.9l-3.5 6.5z"/><path d="M507.4 233.5h6.9l-3.5 6.5z"/><path d="M509.9 231.8h6.9l-3.5 6.5z"/><path d="M512.6 230.0h6.9l-3.5 6.5z"/><path d="M515.4 228.1h6.9l-3.5 6.5z"/><path d="M518.4 226.0h6.9l-3.5 6.5z"/><path d="M521.6 223.8h6.9l-3.5 6.5z"/><path d="M525.0 221.4h6.9l-3.5 6.5z"/><path d="M528.7 218.8h6.9l-3.5 6.5z"/><path d="M532.5 216.1h6.9l-3.5 6.5z"/><path d="M536.5 213.2h6.9l-3.5 6.5z"/><path d="M540.9 210.3h6.9l-3.5 6.5z"/><path d="M545.6 207.4h6.9l-3.5 6.5z"/><path d="M550.6 204.4h6.9l-3.5 6.5z"/><path d="M556.1 201.5h6.9l-3.5 6.5z"/><path d="M561.9 198.6h6.9l-3.5 6.5z"/><path d="M568.3 196.0h6.9l-3.5 6.5z"/><path d="M575.1 193.3h6.9l-3.5 6.5z"/><path d="M582.2 190.4h6.9l-3.5 6.5z"/><path d="M589.9 187.5h6.9l-3.5 6.5z"/><path d="M598.1 184.9h6.9l-3.5 6.5z"/><path d="M607.1 183.1h6.9l-3.5 6.5z"/><path d="M616.7 181.7h6.9l-3.5 6.5z"/><path d="M626.7 181.2h6.9l-3.5 6.5z"/><path d="M636.7 180.9h6.9l-3.5 6.5z"/><path d="M646.7 181.1h6.9l-3.5 6.5z"/><path d="M656.6 182.2h6.9l-3.5 6.5z"/><path d="M666.5 183.8h6.9l-3.5 6.5z"/><path d="M676.0 186.2h6.9l-3.5 6.5z"/><path d="M684.9 188.7h6.9l-3.5 6.5z"/><path d="M693.2 191.5h6.9l-3.5 6.5z"/><path d="M700.9 194.6h6.9l-3.5 6.5z"/><path d="M707.9 198.0h6.9l-3.5 6.5z"/><path d="M714.3 201.5h6.9l-3.5 6.5z"/><path d="M720.1 205.0h6.9l-3.5 6.5z"/><path d="M725.3 208.5h6.9l-3.5 6.5z"/><path d="M729.9 212.0h6.9l-3.5 6.5z"/><path d="M734.0 215.5h6.9l-3.5 6.5z"/><path d="M737.5 219.1h6.9l-3.5 6.5z"/><path d="M740.5 222.6h6.9l-3.5 6.5z"/><path d="M743.0 225.9h6.9l-3.5 6.5z"/><path d="M745.2 229.1h6.9l-3.5 6.5z"/><path d="M746.9 232.1h6.9l-3.5 6.5z"/><path d="M748.0 235.2h6.9l-3.5 6.5z"/><path d="M748.9 238.0h6.9l-3.5 6.5z"/><path d="M749.2 240.8h6.9l-3.5 6.5z"/><path d="M748.7 243.3h6.9l-3.5 6.5z"/><path d="M747.8 245.6h6.9l-3.5 6.5z"/><path d="M746.9 247.8h6.9l-3.5 6.5z"/><path d="M746.1 249.8h6.9l-3.5 6.5z"/><path d="M745.5 250.9h6.9l-3.5 6.5z"/></g>
<rect x="466.5" y="7" width="320.1" height="261.2" fill="none" stroke="#111" stroke-width="1.1"/>
<path d="M512.2 268.2v-5.5M558 268.2v-5.5M603.7 268.2v-5.5M649.4 268.2v-5.5M695.1 268.2v-5.5M740.9 268.2v-5.5" stroke="#111" stroke-width="1.0" fill="none"/>
<path d="M489.4 268.2v-3M535.1 268.2v-3M580.8 268.2v-3M626.5 268.2v-3M672.3 268.2v-3M718 268.2v-3M763.7 268.2v-3" stroke="#111" stroke-width="1.0" fill="none"/>
<path d="M466.5 230.9h5.5M466.5 193.6h5.5M466.5 156.3h5.5M466.5 118.9h5.5M466.5 81.6h5.5M466.5 44.3h5.5" stroke="#111" stroke-width="1.0" fill="none"/>
<path d="M466.5 249.5h3M466.5 212.2h3M466.5 174.9h3M466.5 137.6h3M466.5 100.3h3M466.5 63h3M466.5 25.7h3" stroke="#111" stroke-width="1.0" fill="none"/>
<text x="468.1" y="287" font-size="18.4" text-anchor="middle">0</text>
<text x="460" y="274.4" font-size="18.4" text-anchor="end">0</text>
<text x="513" y="287" font-size="18.4" text-anchor="middle">0.2</text>
<text x="460" y="237.1" font-size="18.4" text-anchor="end">0.2</text>
<text x="558.8" y="287" font-size="18.4" text-anchor="middle">0.4</text>
<text x="460" y="199.8" font-size="18.4" text-anchor="end">0.4</text>
<text x="604.5" y="287" font-size="18.4" text-anchor="middle">0.6</text>
<text x="460" y="162.5" font-size="18.4" text-anchor="end">0.6</text>
<text x="650.2" y="287" font-size="18.4" text-anchor="middle">0.8</text>
<text x="460" y="125.1" font-size="18.4" text-anchor="end">0.8</text>
<text x="695.9" y="287" font-size="18.4" text-anchor="middle">1.0</text>
<text x="460" y="87.8" font-size="18.4" text-anchor="end">1.0</text>
<text x="741.7" y="287" font-size="18.4" text-anchor="middle">1.2</text>
<text x="460" y="50.5" font-size="18.4" text-anchor="end">1.2</text>
<text x="787.4" y="287" font-size="18.4" text-anchor="middle">1.4</text>
<text x="460" y="13.2" font-size="18.4" text-anchor="end">1.4</text>
<text x="639.8" y="306.6" font-size="18.4" text-anchor="middle">Re(<tspan font-style="italic">Z</tspan>) / (Ω·cm<tspan font-size="11" dy="-6">2</tspan><tspan dy="6">)</tspan></text>
<text transform="translate(424.4 138.4) rotate(-90)" font-size="18.3" text-anchor="middle">-Im(<tspan font-style="italic">Z</tspan>) / (Ω·cm<tspan font-size="11" dy="-6">2</tspan><tspan dy="6">)</tspan></text>
<text x="475.9" y="29.8" font-size="18.35" text-anchor="start">(c) 50% CO-50% CO<tspan font-size="11.4" dy="3.5">2</tspan></text>
<path d="M686.1 21.9h7.0l-3.5 6.6z" fill="#fff" stroke="#a55fa3" stroke-width="1.1"/>
<text x="701.1" y="30.6" font-size="18.2" text-anchor="start">L<tspan font-size="11.4" dy="3.5">0.1</tspan><tspan dy="-3.5">SFNM</tspan></text>
<path d="M686.9 48.8a2.7 2.7 0 1 0 5.4 0a2.7 2.7 0 1 0 -5.4 0z" fill="#fff" stroke="#e0141e" stroke-width="1.1"/>
<text x="701.1" y="54.7" font-size="18.2" text-anchor="start">L<tspan font-size="11.4" dy="3.5">0.2</tspan><tspan dy="-3.5">SFNM</tspan></text>
<path d="M687.0 70.8h5.1v5.1h-5.1z" fill="#fff" stroke="#111111" stroke-width="1.1"/>
<text x="701.1" y="79.3" font-size="18.2" text-anchor="start">L<tspan font-size="11.4" dy="3.5">0.3</tspan><tspan dy="-3.5">SFNM</tspan></text>
<path d="M686.1 100.5h7.0l-3.5 -6.6z" fill="#fff" stroke="#1f47a3" stroke-width="1.1"/>
<text x="701.1" y="103.6" font-size="18.2" text-anchor="start">L<tspan font-size="11.4" dy="3.5">0.4</tspan><tspan dy="-3.5">SFNM</tspan></text>
<clipPath id="cb"><rect x="61" y="323.3" width="322.4" height="261"/></clipPath>
<ellipse cx="137" cy="522" rx="48.4" ry="33.7" transform="rotate(-31 137 522)" fill="#8fcbce"/>
<ellipse cx="229.3" cy="409" rx="34.3" ry="81" fill="#f6b6b4"/>
<ellipse cx="303.2" cy="490" rx="40.5" ry="65" fill="#f8c9a0"/>
<path d="M61.0 556.5L62.5 556.2L63.9 556.1L65.4 556.0L66.8 556.1L68.2 556.5L69.6 556.8L71.1 556.7L72.5 556.4L73.9 556.1L75.4 556.0L76.9 556.0L78.4 556.0L79.9 556.0L81.2 556.0L82.5 555.5L83.6 554.4L84.7 553.3L85.7 552.2L86.5 551.1L87.3 549.8L88.1 548.6L88.8 547.3L89.6 546.0L90.3 544.8L91.0 543.5L91.6 542.2L92.3 540.9L93.0 539.6L93.6 538.3L94.4 537.0L95.1 535.8L95.9 534.6L96.8 533.4L97.6 532.2L98.5 531.0L99.4 529.9L100.3 528.8L101.3 527.7L102.3 526.3L103.3 525.0L104.4 524.2L105.5 524.1L106.7 525.0L107.9 526.1L108.9 527.3L110.0 528.0L111.2 527.4L112.4 526.3L113.7 525.4L114.9 525.6L116.3 526.2L117.6 527.0L119.0 527.6L120.4 528.1L121.8 528.5L123.2 529.0L124.6 529.3L126.0 529.6L127.5 529.6L128.9 529.6L130.4 529.5L131.9 529.4L133.3 529.2L134.7 529.0L136.1 528.8L137.4 528.3L138.7 527.7L140.0 527.0L141.3 526.2L142.6 525.4L143.9 524.6L145.2 523.9L146.5 523.3L147.8 522.6L149.1 522.0L150.4 521.3L151.7 520.7L153.0 520.0L154.3 519.4L155.6 518.7L156.9 518.1L158.2 517.4L159.6 516.8L160.9 516.2L162.2 515.5L163.5 514.9L164.7 514.2L166.0 513.4L167.2 512.7L168.5 511.9L169.7 511.1L170.9 510.2L172.1 509.4L173.3 508.5L174.4 507.6L175.4 506.6L176.5 505.6L177.5 504.5L178.4 503.4L179.4 502.3L180.2 501.1L181.1 499.9L181.8 498.7L182.5 497.5L183.2 496.2L183.9 494.9L184.6 493.6L185.2 492.2L185.8 490.9L186.4 489.5L186.9 488.2L187.5 486.8L188.0 485.5L188.5 484.1L189.0 482.8L189.5 481.4L189.9 480.0L190.4 478.6L190.8 477.2L191.3 475.8L191.7 474.4L192.1 473.0L192.5 471.6L192.9 470.2L193.3 468.8L193.7 467.4L194.1 466.0L194.5 464.6L194.9 463.2L195.3 461.8L195.7 460.4L196.0 459.0L196.4 457.6L196.7 456.2L197.1 454.8L197.5 453.4L197.8 451.9L198.2 450.5L198.5 449.1L198.9 447.7L199.2 446.3L199.5 444.9L199.9 443.5L200.2 442.0L200.6 440.6L200.9 439.2L201.2 437.8L201.6 436.4L201.9 434.9L202.2 433.5L202.5 432.1L202.8 430.7L203.1 429.3L203.5 427.8L203.8 426.4L204.1 425.0L204.4 423.6L204.7 422.1L205.0 420.7L205.3 419.3L205.7 417.9L206.0 416.5L206.3 415.0L206.6 413.6L207.0 412.2L207.3 410.8L207.7 409.4L208.0 408.0L208.4 406.5L208.7 405.1L209.1 403.7L209.5 402.3L209.8 400.9L210.2 399.5L210.6 398.1L211.0 396.7L211.4 395.3L211.7 393.9L212.1 392.5L212.5 391.1L212.9 389.7L213.3 388.3L213.7 386.9L214.2 385.5L214.6 384.1L215.0 382.7L215.4 381.3L215.8 379.9L216.2 378.5L216.7 377.1L217.1 375.7L217.5 374.3L218.0 372.9L218.4 371.5L218.9 370.2L219.4 368.8L219.9 367.4L220.3 366.1L220.8 364.7L221.3 363.3L221.9 361.9L222.4 360.6L223.0 359.2L223.6 357.9L224.2 356.6L224.8 355.2L225.5 353.9L226.3 352.7L227.3 351.7L228.7 351.0L230.0 351.4L231.3 352.4L232.6 352.5L234.0 351.7L234.9 351.8L235.4 352.8L235.9 354.3L236.3 356.1L236.7 357.8L237.1 359.4L237.5 360.7L237.9 362.1L238.3 363.6L238.7 365.0L239.0 366.4L239.4 367.8L239.8 369.2L240.2 370.6L240.6 372.0L241.0 373.4L241.4 374.8L241.8 376.2L242.2 377.6L242.6 379.0L243.0 380.4L243.4 381.8L243.8 383.2L244.2 384.6L244.6 386.0L245.0 387.4L245.4 388.8L245.8 390.2L246.2 391.6L246.6 393.0L247.0 394.4L247.4 395.8L247.8 397.2L248.2 398.6L248.5 400.0L248.9 401.4L249.3 402.8L249.6 404.2L250.0 405.7L250.3 407.1L250.7 408.5L251.0 409.9L251.4 411.3L251.7 412.7L252.0 414.2L252.4 415.6L252.7 417.0L253.0 418.4L253.3 419.8L253.6 421.3L253.9 422.7L254.2 424.1L254.5 425.5L254.9 427.0L255.2 428.4L255.5 429.8L255.8 431.2L256.1 432.6L256.5 434.1L256.8 435.5L257.2 436.9L257.5 438.3L257.8 439.7L258.2 441.1L258.5 442.6L258.9 444.0L259.3 445.4L259.7 446.8L260.1 448.2L260.5 449.6L260.9 451.0L261.3 452.4L261.7 453.8L262.2 455.1L262.7 456.5L263.2 457.9L263.7 459.2L264.2 460.6L264.8 461.9L265.5 463.2L266.1 464.5L266.8 465.8L267.5 467.1L268.2 468.4L269.0 469.6L269.8 470.8L270.6 472.0L271.4 473.2L272.3 474.4L273.2 475.6L274.0 476.8L275.0 477.9L276.0 479.0L277.1 479.9L278.3 480.7L279.5 481.6L280.6 482.5L281.6 483.5L282.6 484.5L283.6 485.6L284.6 486.7L285.6 487.8L286.5 488.9L287.4 490.1L288.2 491.3L289.0 492.5L289.7 493.8L290.5 495.0L291.2 496.3L291.8 497.6L292.4 498.9L293.0 500.2L293.6 501.6L294.1 502.9L294.7 504.3L295.2 505.7L295.7 507.1L296.1 508.4L296.6 509.8L297.1 511.2L297.5 512.6L297.9 514.0L298.4 515.4L298.8 516.8L299.2 518.2L299.6 519.6L300.0 521.0L300.4 522.4L300.8 523.8L301.1 525.2L301.5 526.6L301.8 528.0L302.2 529.4L302.5 530.8L302.9 532.3L303.3 533.7L303.7 535.0L304.1 536.4L304.6 537.9L305.0 539.5L305.5 541.1L305.9 542.6L306.5 544.0L307.1 545.2L307.8 546.2L308.8 546.9L310.2 547.5L311.8 547.9L312.9 547.9L313.9 547.2L314.8 545.9L315.6 544.4L316.3 542.8L316.9 541.5L317.5 540.2L318.0 538.8L318.5 537.5L318.9 536.1L319.3 534.7L319.7 533.2L320.1 531.8L320.4 530.4L320.8 528.9L321.1 527.5L321.4 526.1L321.7 524.7L322.0 523.3L322.3 521.8L322.6 520.4L322.9 519.0L323.1 517.5L323.4 516.1L323.6 514.7L323.9 513.2L324.1 511.8L324.4 510.4L324.6 508.9L324.9 507.5L325.1 506.0L325.4 504.6L325.6 503.2L325.9 501.7L326.1 500.3L326.3 498.9L326.6 497.4L326.8 496.0L327.1 494.6L327.3 493.1L327.5 491.7L327.8 490.2L328.0 488.8L328.3 487.4L328.6 486.0L328.9 484.5L329.1 483.1L329.4 481.6L329.7 480.2L330.0 478.8L330.4 477.4L330.8 476.0L331.3 474.5L332.1 473.0L332.6 472.7L332.9 473.6L333.2 475.1L333.5 477.0L333.7 478.8L333.9 480.3L334.0 481.8L334.2 483.2L334.3 484.7L334.5 486.1L334.6 487.6L334.7 489.0L334.8 490.5L334.9 491.9L335.0 493.4L335.1 494.8L335.2 496.3L335.3 497.8L335.4 499.2L335.5 500.7L335.6 502.1L335.7 503.6L335.8 505.0L335.9 506.5L336.0 507.9L336.1 509.4L336.2 510.9L336.3 512.3L336.4 513.8L336.6 515.2L336.7 516.7L336.8 518.1L336.9 519.6L337.0 521.0L337.1 522.5L337.2 523.9L337.4 525.4L337.5 526.8L337.7 528.3L337.8 529.7L338.0 531.2L338.2 532.6L338.4 534.1L338.7 535.5L338.9 537.0L339.2 538.4L339.6 539.8L339.9 541.3L340.3 542.7L340.7 544.0L341.1 545.4L341.7 546.8L342.3 548.2L343.1 549.5L343.9 550.8L344.8 551.8L345.7 552.6L346.9 553.4L348.2 554.1L349.6 554.8L351.1 555.3L352.5 555.7L353.9 556.0L355.3 556.3L356.8 556.5L358.2 556.7L359.7 556.8L361.1 556.9L362.6 557.1L364.1 557.1L365.5 557.2L367.0 557.3L368.4 557.4L369.9 557.4L371.3 557.5L372.8 557.6L374.3 557.6L375.7 557.7L377.2 557.7L378.6 557.8L380.1 557.8L381.5 557.8L383.0 557.8" fill="none" stroke="#a55fa3" stroke-width="1.05" stroke-linejoin="round" clip-path="url(#cb)"/>
<path d="M61.0 555.5L62.4 555.0L63.9 554.8L65.3 555.2L66.6 555.8L68.1 555.6L69.5 555.1L70.9 555.1L72.3 555.6L73.8 556.0L75.2 556.0L76.7 555.8L78.1 555.7L79.6 555.6L81.1 555.6L82.5 555.6L84.0 555.7L85.5 555.7L86.9 555.8L88.4 555.8L89.9 555.8L91.4 555.8L92.8 555.8L94.3 555.8L95.8 555.7L97.3 555.7L98.7 555.6L100.2 555.6L101.6 555.3L103.1 554.9L104.5 554.3L105.6 553.6L106.6 552.7L107.5 551.6L108.4 550.3L109.2 549.0L110.0 547.6L110.8 546.3L111.6 545.1L112.3 543.8L113.0 542.5L113.7 541.2L114.3 539.9L115.0 538.6L115.7 537.3L116.4 536.0L117.1 534.8L117.9 533.5L118.7 532.2L119.4 530.9L120.2 529.7L121.1 528.5L121.9 527.3L122.8 526.2L123.8 525.0L124.9 523.7L126.0 522.7L127.2 522.4L128.6 522.7L130.1 523.2L131.4 523.8L132.5 524.7L133.6 525.7L134.7 526.8L135.9 527.6L137.2 528.4L138.6 529.2L139.8 529.9L140.9 530.8L141.7 531.9L142.3 533.2L142.9 534.6L143.5 536.1L144.1 537.5L144.8 538.7L145.7 539.8L146.7 540.8L147.9 541.8L149.1 542.7L150.3 543.6L151.5 544.3L152.8 545.2L154.1 546.1L155.4 546.7L156.8 547.0L158.3 547.0L159.8 547.0L161.2 547.0L162.6 546.9L164.0 546.4L165.3 545.5L166.5 544.5L167.5 543.5L168.4 542.5L169.2 541.3L170.0 540.0L170.7 538.7L171.4 537.3L172.1 535.9L172.7 534.6L173.3 533.3L173.9 531.9L174.5 530.6L175.1 529.2L175.6 527.9L176.1 526.5L176.6 525.1L177.1 523.7L177.6 522.3L178.1 520.9L178.5 519.5L179.0 518.1L179.4 516.7L179.8 515.3L180.2 513.9L180.6 512.5L181.0 511.1L181.4 509.7L181.8 508.2L182.2 506.8L182.5 505.4L182.9 504.0L183.3 502.6L183.6 501.1L184.0 499.7L184.4 498.3L184.8 496.9L185.2 495.4L185.5 494.0L185.9 492.6L186.3 491.2L186.7 489.8L187.1 488.4L187.5 487.0L187.9 485.5L188.3 484.1L188.6 482.7L189.0 481.3L189.4 479.9L189.8 478.4L190.2 477.0L190.6 475.6L190.9 474.2L191.3 472.8L191.7 471.4L192.1 469.9L192.5 468.5L192.9 467.1L193.2 465.7L193.6 464.3L194.0 462.8L194.4 461.4L194.8 460.0L195.1 458.6L195.5 457.2L195.9 455.8L196.3 454.3L196.6 452.9L197.0 451.5L197.4 450.1L197.8 448.7L198.1 447.2L198.5 445.8L198.9 444.4L199.2 443.0L199.6 441.5L200.0 440.1L200.3 438.7L200.7 437.3L201.0 435.8L201.4 434.4L201.7 433.0L202.1 431.6L202.4 430.1L202.8 428.7L203.1 427.3L203.5 425.9L203.9 424.4L204.3 423.0L204.6 421.6L204.9 420.1L205.3 418.6L205.6 417.2L206.0 415.7L206.4 414.3L206.8 412.9L207.3 411.6L207.9 410.3L208.6 409.1L209.5 407.9L210.5 406.8L211.5 405.7L212.3 404.5L212.9 403.2L213.5 401.8L214.1 400.5L214.6 399.1L215.2 397.7L215.8 396.4L216.5 395.1L217.2 393.7L218.0 392.3L218.8 391.1L219.8 390.1L221.0 389.5L222.4 389.1L223.9 388.6L225.3 388.1L226.6 388.1L227.7 389.1L228.7 390.5L229.4 391.7L230.0 393.0L230.5 394.4L230.9 395.9L231.4 397.3L231.9 398.7L232.4 400.1L233.0 401.4L233.7 402.7L234.3 404.1L234.9 405.4L235.5 406.7L236.0 408.1L236.5 409.5L237.0 410.9L237.5 412.2L238.0 413.6L238.4 415.0L238.9 416.5L239.3 417.9L239.8 419.3L240.2 420.6L240.7 422.0L241.2 423.4L241.7 424.8L242.1 426.2L242.6 427.6L243.1 429.0L243.5 430.4L243.9 431.8L244.3 433.2L244.7 434.6L245.1 436.0L245.5 437.4L245.9 438.9L246.2 440.3L246.6 441.7L246.9 443.2L247.2 444.6L247.6 446.0L247.9 447.5L248.2 448.9L248.5 450.3L248.8 451.8L249.0 453.2L249.3 454.7L249.6 456.1L249.8 457.5L250.1 459.0L250.3 460.4L250.6 461.9L250.8 463.3L251.1 464.8L251.3 466.2L251.6 467.7L251.8 469.1L252.1 470.6L252.4 472.0L252.6 473.5L252.9 474.9L253.1 476.4L253.4 477.8L253.6 479.3L253.9 480.7L254.1 482.2L254.4 483.6L254.6 485.0L254.9 486.5L255.2 487.9L255.5 489.4L255.8 490.8L256.1 492.2L256.4 493.7L256.7 495.1L257.1 496.5L257.4 498.0L257.8 499.4L258.2 500.8L258.5 502.2L258.9 503.6L259.3 505.1L259.6 506.5L260.0 507.9L260.3 509.3L260.6 510.8L260.9 512.2L261.2 513.7L261.5 515.1L261.8 516.5L262.1 518.0L262.4 519.4L262.7 520.9L263.1 522.3L263.4 523.7L263.8 525.1L264.1 526.5L264.5 528.0L264.9 529.4L265.3 530.9L265.7 532.3L266.2 533.7L266.7 535.1L267.2 536.5L267.9 537.7L268.6 539.0L269.5 540.2L270.5 541.4L271.6 542.3L272.9 542.9L274.3 543.4L275.7 543.6L277.0 543.1L278.2 542.1L279.3 540.9L280.2 539.7L281.1 538.6L282.0 537.4L282.8 536.2L283.6 534.9L284.3 533.6L285.0 532.2L285.5 530.9L286.1 529.6L286.6 528.2L287.0 526.9L287.5 525.5L287.9 524.1L288.3 522.7L288.7 521.3L289.1 519.8L289.5 518.4L289.8 517.0L290.2 515.5L290.5 514.1L290.9 512.6L291.2 511.2L291.5 509.7L291.8 508.3L292.2 506.8L292.5 505.4L292.8 504.0L293.2 502.5L293.5 501.1L293.8 499.7L294.1 498.2L294.4 496.8L294.7 495.4L295.0 493.9L295.3 492.5L295.5 491.0L295.8 489.6L296.1 488.2L296.4 486.7L296.7 485.3L296.9 483.8L297.2 482.4L297.5 480.9L297.8 479.5L298.1 478.1L298.4 476.6L298.7 475.2L298.9 473.7L299.2 472.3L299.5 470.8L299.7 469.3L300.0 467.9L300.2 466.4L300.5 465.0L300.8 463.5L301.1 462.1L301.5 460.7L301.8 459.3L302.2 457.9L302.7 456.5L303.2 454.9L303.9 453.1L304.6 451.6L305.3 450.4L306.1 449.8L306.9 450.2L307.8 451.6L308.6 453.2L309.0 454.6L309.3 456.0L309.5 457.4L309.8 458.8L310.0 460.2L310.2 461.7L310.3 463.1L310.5 464.6L310.6 466.1L310.7 467.6L310.9 469.1L311.0 470.6L311.1 472.1L311.3 473.6L311.4 475.1L311.6 476.6L311.7 478.0L311.9 479.5L312.0 480.9L312.2 482.4L312.3 483.9L312.5 485.3L312.6 486.8L312.8 488.2L312.9 489.7L313.1 491.2L313.2 492.6L313.4 494.1L313.5 495.5L313.7 497.0L313.8 498.5L314.0 499.9L314.1 501.4L314.3 502.9L314.4 504.3L314.6 505.8L314.7 507.2L314.9 508.7L315.1 510.2L315.2 511.6L315.4 513.1L315.5 514.6L315.7 516.0L315.8 517.5L316.0 518.9L316.2 520.4L316.4 521.9L316.6 523.3L316.8 524.8L317.0 526.2L317.2 527.6L317.5 529.1L317.8 530.5L318.1 532.0L318.4 533.4L318.8 534.9L319.1 536.3L319.6 537.7L320.0 539.1L320.5 540.5L320.9 541.9L321.5 543.2L322.1 544.6L322.8 546.0L323.6 547.3L324.5 548.4L325.4 549.4L326.5 550.2L327.7 551.0L329.1 551.7L330.5 552.4L331.9 553.0L333.3 553.4L334.7 553.8L336.1 554.1L337.5 554.4L339.0 554.6L340.5 554.9L341.9 555.1L343.4 555.3L344.9 555.5L346.3 555.6L347.8 555.8L349.3 555.9L350.7 556.1L352.2 556.2L353.7 556.3L355.1 556.4L356.6 556.5L358.1 556.6L359.5 556.7L361.0 556.8L362.5 556.9L363.9 556.9L365.4 557.0L366.9 557.1L368.3 557.2L369.8 557.3L371.3 557.3L372.7 557.4L374.2 557.5L375.7 557.5L377.1 557.6L378.6 557.6L380.1 557.7L381.5 557.8L383.0 557.8" fill="none" stroke="#e0141e" stroke-width="1.05" stroke-linejoin="round" clip-path="url(#cb)"/>
<path d="M61.0 557.5L62.1 557.4L63.2 557.3L64.2 557.3L65.3 557.2L66.4 557.2L67.5 557.1L68.6 557.1L69.6 557.0L70.7 557.0L71.8 557.0L72.9 556.9L74.0 556.9L75.0 556.9L76.1 556.9L77.2 556.9L78.3 556.8L79.4 556.8L80.5 556.8L81.5 556.8L82.6 556.7L83.7 556.7L84.8 556.7L85.9 556.7L87.0 556.7L88.1 556.6L89.2 556.6L90.2 556.6L91.3 556.6L92.4 556.5L93.5 556.5L94.5 556.4L95.6 556.4L96.7 556.2L97.8 556.0L98.8 555.7L99.9 555.3L100.9 554.9L101.9 554.5L102.8 554.1L103.7 553.6L104.5 553.0L105.3 552.2L106.1 551.4L106.8 550.6L107.6 549.7L108.3 548.9L109.0 548.0L109.7 547.2L110.4 546.4L111.0 545.5L111.7 544.6L112.3 543.8L112.9 542.9L113.6 542.0L114.2 541.1L114.8 540.2L115.5 539.4L116.1 538.5L116.7 537.6L117.4 536.7L118.0 535.8L118.6 534.9L119.2 534.1L119.9 533.2L120.5 532.3L121.1 531.4L121.8 530.6L122.4 529.7L123.1 528.9L123.8 528.0L124.5 527.2L125.2 526.4L126.0 525.6L126.7 524.8L127.4 524.0L128.2 523.2L128.9 522.4L129.6 521.6L130.3 520.8L131.0 520.0L131.7 519.1L132.3 518.0L132.9 517.0L133.5 515.9L134.1 514.8L134.7 513.9L135.3 513.0L136.1 512.4L136.8 512.0L137.7 511.9L138.7 511.7L139.8 511.6L141.0 511.5L142.1 511.4L143.2 511.4L144.3 511.4L145.5 511.4L146.6 511.4L147.6 511.4L148.5 511.2L149.4 510.5L150.3 509.4L151.0 508.7L151.8 508.7L152.5 509.4L153.1 510.5L153.7 511.6L154.3 512.6L154.8 513.8L155.3 514.9L155.8 515.6L156.5 515.4L157.3 514.6L158.1 513.5L158.9 512.5L159.8 512.0L160.7 512.1L161.7 512.6L162.6 513.3L163.6 513.9L164.7 514.2L165.7 514.5L166.7 514.8L167.8 515.0L168.9 515.2L169.9 515.4L171.0 515.6L172.1 515.8L173.2 515.9L174.2 516.0L175.3 516.2L176.4 516.3L177.5 516.4L178.5 516.4L179.6 516.4L180.7 516.3L181.8 516.1L182.9 515.8L184.0 515.5L185.0 515.2L186.0 514.8L187.0 514.4L187.8 514.0L188.7 513.4L189.5 512.8L190.3 512.0L191.1 511.2L191.9 510.3L192.6 509.4L193.3 508.5L194.0 507.6L194.6 506.7L195.1 505.8L195.6 504.9L196.1 504.0L196.5 503.0L196.9 502.0L197.3 501.0L197.7 499.9L198.1 498.9L198.5 497.9L198.8 496.8L199.2 495.8L199.7 494.8L200.1 493.8L200.5 492.8L201.0 491.8L201.5 490.9L202.0 489.9L202.4 488.9L202.9 488.0L203.4 487.0L203.9 486.0L204.4 485.1L204.9 484.1L205.4 483.2L205.9 482.2L206.4 481.2L206.9 480.3L207.4 479.3L207.8 478.3L208.3 477.3L208.8 476.4L209.2 475.4L209.7 474.4L210.1 473.4L210.5 472.4L211.0 471.4L211.4 470.4L211.8 469.4L212.3 468.4L212.8 467.5L213.2 466.5L213.7 465.5L214.2 464.6L214.7 463.6L215.2 462.5L215.7 461.5L216.3 460.5L216.9 459.6L217.5 458.9L218.2 458.2L219.1 457.7L220.2 457.3L221.2 456.9L222.2 456.5L223.2 456.0L224.2 455.5L225.3 455.1L226.3 455.0L227.3 455.2L228.4 455.7L229.3 456.2L230.2 456.8L231.1 457.4L231.9 458.2L232.6 459.0L233.3 459.9L233.9 460.8L234.4 461.7L234.9 462.6L235.3 463.6L235.8 464.6L236.2 465.6L236.6 466.7L236.9 467.7L237.3 468.7L237.6 469.8L237.9 470.8L238.3 471.8L238.6 472.9L238.9 473.9L239.2 475.0L239.4 476.0L239.7 477.0L240.0 478.1L240.3 479.1L240.5 480.2L240.8 481.3L241.0 482.3L241.3 483.4L241.6 484.4L241.8 485.4L242.1 486.5L242.4 487.5L242.7 488.6L243.0 489.6L243.3 490.7L243.6 491.7L243.9 492.7L244.2 493.8L244.5 494.8L244.8 495.9L245.1 496.9L245.4 497.9L245.7 499.0L246.0 500.0L246.3 501.0L246.6 502.1L247.0 503.1L247.3 504.1L247.6 505.2L248.0 506.2L248.3 507.2L248.6 508.3L249.0 509.3L249.4 510.3L249.7 511.3L250.1 512.3L250.5 513.3L250.9 514.4L251.3 515.4L251.7 516.5L252.1 517.5L252.5 518.5L253.0 519.4L253.6 520.3L254.1 521.2L254.8 522.1L255.6 523.0L256.5 523.8L257.4 524.3L258.4 524.4L259.4 524.4L260.6 524.4L261.7 524.4L262.6 524.3L263.6 523.8L264.4 523.0L265.2 522.1L265.9 521.2L266.4 520.3L266.9 519.4L267.3 518.5L267.7 517.5L268.1 516.4L268.4 515.4L268.7 514.3L269.0 513.2L269.4 512.1L269.7 511.1L270.0 510.0L270.3 509.0L270.6 508.0L270.9 506.9L271.3 505.9L271.5 504.8L271.8 503.8L272.1 502.8L272.4 501.7L272.7 500.7L273.0 499.6L273.3 498.6L273.6 497.5L273.9 496.5L274.2 495.5L274.4 494.4L274.7 493.4L275.0 492.3L275.3 491.3L275.6 490.2L275.9 489.2L276.2 488.2L276.5 487.1L276.8 486.1L277.1 485.0L277.4 484.0L277.7 483.0L278.0 481.9L278.3 480.9L278.6 479.8L278.9 478.8L279.2 477.7L279.5 476.6L279.8 475.6L280.2 474.5L280.5 473.5L280.9 472.5L281.3 471.5L281.7 470.6L282.2 469.6L282.8 468.6L283.5 467.5L284.2 466.7L285.0 466.4L286.0 466.7L287.1 467.2L287.9 467.9L288.5 468.7L289.1 469.5L289.5 470.5L289.9 471.6L290.3 472.7L290.6 473.8L291.0 474.9L291.2 475.9L291.5 476.9L291.8 478.0L292.0 479.0L292.2 480.1L292.5 481.1L292.7 482.2L292.9 483.3L293.1 484.3L293.2 485.4L293.4 486.5L293.6 487.6L293.8 488.6L293.9 489.7L294.1 490.8L294.3 491.8L294.5 492.9L294.6 494.0L294.8 495.0L294.9 496.1L295.1 497.2L295.2 498.3L295.3 499.3L295.5 500.4L295.6 501.5L295.8 502.5L295.9 503.6L296.0 504.7L296.2 505.8L296.3 506.8L296.4 507.9L296.6 509.0L296.7 510.1L296.9 511.1L297.0 512.2L297.2 513.3L297.3 514.3L297.5 515.4L297.6 516.5L297.8 517.6L297.9 518.6L298.1 519.7L298.2 520.8L298.4 521.9L298.5 522.9L298.7 524.0L298.8 525.1L299.0 526.1L299.2 527.2L299.3 528.3L299.5 529.3L299.7 530.4L299.9 531.5L300.1 532.5L300.3 533.6L300.5 534.7L300.7 535.8L301.0 536.8L301.2 537.9L301.4 539.0L301.7 540.1L302.0 541.2L302.3 542.2L302.6 543.2L302.9 544.3L303.3 545.2L303.7 546.2L304.1 547.1L304.5 548.1L305.1 549.1L305.8 550.0L306.5 551.0L307.2 551.8L308.0 552.6L308.9 553.2L309.7 553.6L310.6 554.0L311.6 554.3L312.6 554.6L313.7 554.8L314.8 555.1L315.9 555.3L317.0 555.5L318.1 555.6L319.2 555.8L320.3 555.9L321.4 556.0L322.5 556.1L323.5 556.2L324.6 556.3L325.7 556.4L326.8 556.5L327.8 556.6L328.9 556.7L330.0 556.8L331.1 556.9L332.2 557.0L333.2 557.0L334.3 557.1L335.4 557.1L336.5 557.2L337.6 557.2L338.7 557.3L339.7 557.3L340.8 557.3L341.9 557.4L343.0 557.4L344.1 557.4L345.1 557.5L346.2 557.5L347.3 557.5L348.4 557.5L349.5 557.6L350.5 557.6L351.6 557.6L352.7 557.6L353.8 557.7L354.9 557.7L355.9 557.7L357.0 557.7L358.1 557.8L359.2 557.8L360.3 557.8L361.4 557.8L362.4 557.8L363.5 557.8L364.6 557.9L365.7 557.9L366.8 557.9L367.8 557.9L368.9 557.9L370.0 557.9L371.1 557.9L372.2 557.9L373.3 558.0L374.3 558.0L375.4 558.0L376.5 558.0L377.6 558.0L378.7 558.0L379.7 558.0L380.8 558.0L381.9 558.0L383.0 558.0" fill="none" stroke="#111111" stroke-width="1.05" stroke-linejoin="round" clip-path="url(#cb)"/>
<path d="M61.0 558.0L62.4 557.9L63.8 557.8L65.3 557.8L66.7 557.7L68.1 557.7L69.5 557.6L70.9 557.6L72.3 557.6L73.8 557.5L75.2 557.5L76.6 557.5L78.0 557.5L79.4 557.5L80.8 557.5L82.3 557.4L83.7 557.4L85.1 557.4L86.5 557.4L87.9 557.3L89.4 557.3L90.8 557.3L92.2 557.2L93.6 557.2L95.0 557.2L96.4 557.1L97.9 557.1L99.3 557.0L100.7 557.0L102.1 556.9L103.6 556.9L105.0 556.8L106.4 556.8L107.8 556.7L109.2 556.6L110.6 556.5L112.0 556.4L113.5 556.1L114.9 555.7L116.3 555.2L117.6 554.7L118.8 554.1L119.9 553.4L120.9 552.5L121.8 551.4L122.7 550.3L123.6 549.0L124.4 547.8L125.3 546.6L126.0 545.4L126.7 544.2L127.4 543.0L128.1 541.7L128.8 540.4L129.5 539.2L130.3 538.0L131.1 536.9L132.0 535.8L132.9 534.7L133.9 533.6L134.9 532.6L136.0 531.7L137.1 530.9L138.4 530.1L139.7 529.3L141.0 529.0L142.0 529.5L143.0 530.7L144.0 532.0L144.9 533.2L146.0 534.0L147.2 533.5L148.6 532.7L149.7 532.7L150.8 533.4L151.9 534.4L152.9 535.6L153.9 536.8L155.0 538.0L156.0 539.0L156.9 540.0L157.9 541.1L158.9 542.1L159.9 543.1L161.0 544.0L162.1 544.8L163.3 545.7L164.5 546.5L165.8 547.2L167.1 547.6L168.4 548.0L169.8 548.3L171.3 548.5L172.7 548.6L174.0 548.5L175.4 548.1L176.8 547.4L178.0 546.7L179.1 545.9L180.2 545.0L181.1 544.0L182.0 542.9L182.9 541.7L183.7 540.4L184.4 539.1L185.1 537.9L185.7 536.7L186.3 535.4L186.8 534.1L187.3 532.8L187.8 531.4L188.3 530.1L188.8 528.7L189.2 527.4L189.7 526.0L190.1 524.6L190.6 523.3L191.0 521.9L191.5 520.6L191.9 519.2L192.3 517.9L192.8 516.5L193.2 515.2L193.6 513.8L194.0 512.5L194.4 511.1L194.8 509.7L195.2 508.4L195.6 507.0L196.0 505.7L196.3 504.3L196.7 502.9L197.1 501.6L197.5 500.2L197.9 498.8L198.3 497.5L198.7 496.1L199.1 494.7L199.5 493.4L199.9 492.0L200.3 490.6L200.6 489.3L201.0 487.9L201.4 486.5L201.7 485.2L202.1 483.8L202.4 482.4L202.8 481.0L203.1 479.7L203.4 478.3L203.7 476.9L204.0 475.5L204.2 474.1L204.5 472.7L204.8 471.3L205.0 469.9L205.3 468.5L205.5 467.1L205.8 465.7L206.0 464.3L206.3 462.9L206.5 461.5L206.8 460.1L207.0 458.8L207.3 457.4L207.6 456.0L207.9 454.6L208.2 453.2L208.5 451.8L208.8 450.4L209.1 449.1L209.4 447.7L209.8 446.3L210.1 444.9L210.4 443.5L210.8 442.2L211.1 440.8L211.5 439.4L211.8 438.0L212.2 436.7L212.6 435.3L212.9 433.9L213.3 432.5L213.7 431.2L214.1 429.8L214.5 428.5L214.9 427.1L215.3 425.7L215.8 424.4L216.2 423.0L216.6 421.7L216.9 420.3L217.2 418.9L217.5 417.5L217.7 416.1L218.0 414.7L218.2 413.3L218.4 411.9L218.6 410.5L218.8 409.1L219.0 407.7L219.2 406.3L219.5 404.9L219.7 403.5L220.0 402.1L220.3 400.7L220.5 399.3L220.8 397.9L221.1 396.6L221.5 395.2L221.8 393.8L222.1 392.4L222.5 391.0L222.9 389.7L223.3 388.3L223.7 387.0L224.1 385.6L224.6 384.1L225.0 382.6L225.5 381.0L226.1 379.5L226.7 378.3L227.4 377.4L228.4 376.9L229.8 376.6L231.2 376.3L232.4 375.3L233.5 375.2L234.7 376.3L235.8 375.9L236.8 374.4L237.7 374.1L238.4 374.9L239.0 376.4L239.6 378.1L240.2 379.5L240.7 380.8L241.1 382.2L241.6 383.6L242.0 385.0L242.6 386.2L243.3 387.4L244.4 388.4L245.5 389.3L246.2 390.4L246.8 391.6L247.2 393.0L247.6 394.3L248.0 395.7L248.3 397.2L248.7 398.6L249.0 400.0L249.3 401.4L249.7 402.8L250.0 404.1L250.2 405.5L250.5 406.9L250.8 408.3L251.1 409.7L251.4 411.1L251.7 412.5L252.0 413.9L252.3 415.3L252.6 416.6L253.0 418.0L253.3 419.4L253.7 420.8L254.0 422.1L254.4 423.5L254.7 424.9L255.1 426.3L255.4 427.6L255.7 429.0L256.0 430.4L256.3 431.8L256.6 433.2L256.9 434.6L257.2 436.0L257.5 437.3L257.7 438.7L258.0 440.1L258.3 441.5L258.6 442.9L258.9 444.3L259.2 445.7L259.4 447.1L259.7 448.5L260.0 449.9L260.3 451.3L260.5 452.6L260.8 454.0L261.1 455.4L261.4 456.8L261.6 458.2L261.9 459.6L262.2 461.0L262.5 462.4L262.8 463.8L263.0 465.2L263.3 466.6L263.6 467.9L263.9 469.3L264.1 470.7L264.4 472.1L264.7 473.5L265.0 474.9L265.3 476.3L265.5 477.7L265.8 479.1L266.1 480.5L266.4 481.9L266.6 483.2L266.9 484.6L267.2 486.0L267.4 487.4L267.7 488.8L267.9 490.2L268.2 491.6L268.5 493.0L268.8 494.4L269.1 495.8L269.4 497.2L269.7 498.6L270.0 499.9L270.3 501.3L270.7 502.7L271.0 504.1L271.4 505.5L271.7 506.8L272.1 508.2L272.5 509.6L272.9 510.9L273.4 512.3L273.8 513.6L274.3 514.9L274.9 516.4L275.4 517.9L276.0 519.4L276.7 520.6L277.5 521.6L278.4 522.2L279.8 522.7L281.3 523.0L282.6 522.9L283.9 522.2L285.1 521.2L286.0 520.1L286.6 519.0L287.2 517.8L287.6 516.5L288.1 515.1L288.5 513.7L288.8 512.2L289.2 510.8L289.6 509.3L290.0 508.0L290.4 506.6L290.9 505.3L291.3 503.9L291.7 502.5L292.1 501.2L292.5 499.8L292.9 498.5L293.4 497.1L293.8 495.8L294.2 494.4L294.6 493.0L295.0 491.7L295.4 490.3L295.9 489.0L296.3 487.6L296.7 486.3L297.1 484.9L297.5 483.6L297.9 482.2L298.3 480.8L298.7 479.5L299.1 478.1L299.4 476.7L299.8 475.3L300.2 473.9L300.5 472.6L300.9 471.2L301.3 469.9L301.8 468.5L302.3 467.2L302.8 465.6L303.3 463.9L303.9 462.3L304.5 460.8L305.2 459.5L305.9 458.7L306.8 458.4L308.1 458.4L309.7 458.4L311.0 458.5L312.1 459.3L313.0 460.6L313.7 462.1L314.1 463.3L314.4 464.6L314.7 466.0L314.9 467.4L315.1 468.8L315.3 470.2L315.4 471.7L315.6 473.2L315.7 474.6L315.9 476.1L316.1 477.5L316.2 478.9L316.4 480.3L316.6 481.7L316.7 483.1L316.9 484.5L317.0 485.9L317.2 487.3L317.3 488.8L317.5 490.2L317.6 491.6L317.7 493.0L317.9 494.4L318.0 495.8L318.2 497.2L318.3 498.6L318.5 500.1L318.6 501.5L318.8 502.9L318.9 504.3L319.1 505.7L319.2 507.1L319.4 508.5L319.5 509.9L319.7 511.3L319.8 512.8L320.0 514.2L320.1 515.6L320.3 517.0L320.5 518.4L320.6 519.8L320.8 521.2L321.0 522.6L321.2 524.0L321.4 525.4L321.6 526.8L321.8 528.2L322.1 529.6L322.3 531.0L322.6 532.5L322.9 533.9L323.2 535.3L323.6 536.7L324.0 538.0L324.4 539.4L324.9 540.6L325.4 541.9L326.1 543.1L326.8 544.4L327.7 545.6L328.7 546.7L329.7 547.8L330.7 548.7L331.7 549.6L332.8 550.4L334.1 551.2L335.3 551.9L336.6 552.5L338.0 553.1L339.3 553.5L340.6 553.9L342.0 554.2L343.4 554.5L344.8 554.8L346.2 555.0L347.6 555.2L349.0 555.4L350.4 555.6L351.9 555.8L353.3 556.0L354.7 556.1L356.1 556.3L357.5 556.4L358.9 556.5L360.3 556.7L361.7 556.8L363.2 556.9L364.6 557.0L366.0 557.1L367.4 557.1L368.8 557.2L370.2 557.3L371.7 557.4L373.1 557.5L374.5 557.5L375.9 557.6L377.3 557.6L378.7 557.7L380.2 557.7L381.6 557.8L383.0 557.8" fill="none" stroke="#1f47a3" stroke-width="1.05" stroke-linejoin="round" clip-path="url(#cb)"/>
<rect x="61" y="323.3" width="322.4" height="261" fill="none" stroke="#111" stroke-width="1.1"/>
<path d="M83.5 584.3v-5M158.5 584.3v-5M233.5 584.3v-5M308.5 584.3v-5" stroke="#111" stroke-width="1.0" fill="none"/>
<path d="M66.9 584.3v-2.6M71.9 584.3v-2.6M76.2 584.3v-2.6M80.1 584.3v-2.6M106.1 584.3v-2.6M119.3 584.3v-2.6M128.7 584.3v-2.6M135.9 584.3v-2.6M141.9 584.3v-2.6M146.9 584.3v-2.6M151.2 584.3v-2.6M155.1 584.3v-2.6M181.1 584.3v-2.6M194.3 584.3v-2.6M203.7 584.3v-2.6M210.9 584.3v-2.6M216.9 584.3v-2.6M221.9 584.3v-2.6M226.2 584.3v-2.6M230.1 584.3v-2.6M256.1 584.3v-2.6M269.3 584.3v-2.6M278.7 584.3v-2.6M285.9 584.3v-2.6M291.9 584.3v-2.6M296.9 584.3v-2.6M301.2 584.3v-2.6M305.1 584.3v-2.6M331.1 584.3v-2.6M344.3 584.3v-2.6M353.7 584.3v-2.6M360.9 584.3v-2.6M366.9 584.3v-2.6M371.9 584.3v-2.6M376.2 584.3v-2.6M380.1 584.3v-2.6" stroke="#111" stroke-width="1.0" fill="none"/>
<path d="M61 558.2h5M61 506.1h5M61 454h5M61 401.9h5M61 349.8h5" stroke="#111" stroke-width="1.0" fill="none"/>
<path d="M61 532.2h3M61 480.1h3M61 428h3M61 375.9h3" stroke="#111" stroke-width="1.0" fill="none"/>
<text x="55.6" y="564.4" font-size="18.4" text-anchor="end">0</text>
<text x="55.6" y="512.3" font-size="18.4" text-anchor="end">0.01</text>
<text x="55.6" y="460.2" font-size="18.4" text-anchor="end">0.02</text>
<text x="55.6" y="408.1" font-size="18.4" text-anchor="end">0.03</text>
<text x="55.6" y="356" font-size="18.4" text-anchor="end">0.04</text>
<text x="74.3" y="606" font-size="17.6" text-anchor="start">10<tspan font-size="11" dy="-6.8">0</tspan></text>
<text x="149.3" y="606" font-size="17.6" text-anchor="start">10<tspan font-size="11" dy="-6.8">1</tspan></text>
<text x="224.3" y="606" font-size="17.6" text-anchor="start">10<tspan font-size="11" dy="-6.8">2</tspan></text>
<text x="299.4" y="606" font-size="17.6" text-anchor="start">10<tspan font-size="11" dy="-6.8">3</tspan></text>
<text x="374.4" y="606" font-size="17.6" text-anchor="start">10<tspan font-size="11" dy="-6.8">4</tspan></text>
<text x="229.7" y="628" font-size="18.6" text-anchor="middle">Frequency / Hz</text>
<text transform="translate(14.1 454.6) rotate(-90)" font-size="18.3" text-anchor="middle">F(<tspan font-style="italic">τ</tspan>) / (Ω·cm<tspan font-size="11" dy="-6">2</tspan><tspan dy="6">)</tspan></text>
<text x="69.5" y="347.9" font-size="18.2" text-anchor="start">(b)</text>
<text x="131" y="499" font-size="18.2" text-anchor="middle">LF</text>
<text x="231" y="346" font-size="18.2" text-anchor="middle">IF</text>
<text x="304" y="445" font-size="18.2" text-anchor="middle">HF</text>
<text x="209" y="384" font-size="18.2" text-anchor="middle">1</text>
<text x="237.6" y="434" font-size="18.2" text-anchor="middle">2</text>
<text x="227" y="472" font-size="18.2" text-anchor="middle">3</text>
<text x="186" y="552" font-size="18.2" text-anchor="middle">4</text>
<text x="262.5" y="346.8" font-size="18.2" text-anchor="start">1</text>
<path d="M271 340.6H299.7" stroke="#a55fa3" stroke-width="1.2"/>
<text x="304.4" y="347" font-size="18.2" text-anchor="start">L<tspan font-size="11.4" dy="3.5">0.1</tspan><tspan dy="-3.5">SFNM</tspan></text>
<text x="262.5" y="367.5" font-size="18.2" text-anchor="start">2</text>
<path d="M271 361.3H299.7" stroke="#e0141e" stroke-width="1.2"/>
<text x="304.4" y="367.7" font-size="18.2" text-anchor="start">L<tspan font-size="11.4" dy="3.5">0.2</tspan><tspan dy="-3.5">SFNM</tspan></text>
<text x="262.5" y="388.1" font-size="18.2" text-anchor="start">3</text>
<path d="M271 381.9H299.7" stroke="#111111" stroke-width="1.2"/>
<text x="304.4" y="388.3" font-size="18.2" text-anchor="start">L<tspan font-size="11.4" dy="3.5">0.3</tspan><tspan dy="-3.5">SFNM</tspan></text>
<text x="262.5" y="408.7" font-size="18.2" text-anchor="start">4</text>
<path d="M271 402.5H299.7" stroke="#1f47a3" stroke-width="1.2"/>
<text x="304.4" y="408.9" font-size="18.2" text-anchor="start">L<tspan font-size="11.4" dy="3.5">0.4</tspan><tspan dy="-3.5">SFNM</tspan></text>
<clipPath id="cd"><rect x="464.1" y="325" width="322.6" height="260.4"/></clipPath>
<ellipse cx="547.7" cy="426.5" rx="35.7" ry="96" fill="#f8c9a0"/>
<ellipse cx="631.1" cy="543.4" rx="33.1" ry="27.1" fill="#f6b6b4"/>
<ellipse cx="714.6" cy="555" rx="37.4" ry="21" transform="rotate(-22.5 714.6 555)" fill="#8fcbce"/>
<path d="M464.0 567.3L465.4 567.3L466.8 567.2L468.2 567.2L469.7 567.1L471.1 567.1L472.5 567.0L473.9 566.9L475.3 566.9L476.7 566.8L478.1 566.7L479.6 566.6L481.0 566.5L482.4 566.4L483.8 566.3L485.2 566.2L486.6 566.1L488.0 565.9L489.4 565.8L490.9 565.7L492.3 565.5L493.7 565.3L495.0 565.1L496.4 564.8L497.8 564.5L499.2 564.2L500.6 563.8L502.0 563.3L503.3 562.8L504.5 562.2L505.8 561.6L507.0 560.9L508.2 560.0L509.3 559.1L510.4 558.1L511.3 557.0L512.1 555.9L512.8 554.8L513.5 553.6L514.1 552.3L514.7 551.0L515.3 549.7L515.7 548.3L516.2 546.9L516.6 545.5L516.9 544.1L517.3 542.8L517.6 541.4L517.8 540.0L518.1 538.7L518.4 537.3L518.6 535.9L518.8 534.5L519.0 533.1L519.2 531.6L519.4 530.2L519.6 528.8L519.8 527.4L520.0 526.0L520.2 524.6L520.4 523.2L520.6 521.8L520.8 520.4L520.9 519.0L521.1 517.6L521.3 516.2L521.5 514.8L521.6 513.4L521.8 512.0L522.0 510.6L522.1 509.2L522.3 507.7L522.4 506.3L522.6 504.9L522.8 503.5L522.9 502.1L523.1 500.7L523.2 499.3L523.4 497.9L523.5 496.5L523.7 495.1L523.8 493.7L524.0 492.3L524.1 490.9L524.3 489.5L524.4 488.0L524.6 486.6L524.7 485.2L524.8 483.8L525.0 482.4L525.1 481.0L525.2 479.6L525.4 478.2L525.5 476.8L525.6 475.4L525.8 474.0L525.9 472.6L526.1 471.1L526.2 469.7L526.4 468.3L526.6 466.9L526.8 465.5L527.0 464.1L527.1 462.7L527.3 461.3L527.5 459.9L527.7 458.5L527.8 457.1L528.0 455.7L528.1 454.3L528.3 452.9L528.5 451.5L528.6 450.1L528.7 448.7L528.9 447.3L529.0 445.9L529.2 444.4L529.3 443.0L529.5 441.6L529.6 440.2L529.7 438.8L529.9 437.4L530.0 436.0L530.2 434.6L530.3 433.2L530.4 431.8L530.6 430.4L530.7 429.0L530.9 427.5L531.0 426.1L531.2 424.7L531.3 423.3L531.5 421.9L531.6 420.5L531.8 419.1L531.9 417.7L532.0 416.3L532.2 414.9L532.3 413.5L532.5 412.1L532.6 410.7L532.8 409.2L532.9 407.8L533.1 406.4L533.2 405.0L533.4 403.6L533.5 402.2L533.7 400.8L533.9 399.4L534.0 398.0L534.2 396.6L534.4 395.2L534.5 393.8L534.7 392.4L534.9 391.0L535.0 389.6L535.2 388.2L535.4 386.7L535.6 385.3L535.8 383.9L536.0 382.5L536.1 381.1L536.4 379.7L536.6 378.3L536.8 376.9L537.0 375.5L537.3 374.2L537.5 372.8L537.8 371.4L538.1 370.0L538.5 368.6L538.8 367.2L539.2 365.9L539.6 364.5L540.0 363.1L540.5 361.8L541.0 360.5L541.6 358.9L542.3 357.3L543.0 355.9L543.7 355.1L544.5 355.2L545.4 356.3L546.2 357.8L546.9 359.1L547.4 360.4L547.8 361.8L548.2 363.2L548.6 364.5L548.9 366.3L549.1 368.1L549.4 369.4L549.7 369.8L550.0 368.8L550.4 366.9L550.7 364.9L551.1 363.5L551.6 363.3L552.1 364.4L552.6 366.1L553.0 367.7L553.3 369.1L553.5 370.4L553.7 371.8L553.9 373.2L554.0 374.6L554.2 376.1L554.3 377.5L554.4 378.9L554.5 380.3L554.7 381.7L554.8 383.1L555.0 384.6L555.1 386.0L555.3 387.4L555.5 388.8L555.7 390.2L556.0 391.6L556.2 393.0L556.4 394.4L556.6 395.8L556.9 397.2L557.1 398.6L557.3 399.9L557.6 401.3L557.8 402.7L558.1 404.1L558.4 405.5L558.6 406.9L558.9 408.3L559.2 409.7L559.5 411.1L559.8 412.4L560.1 413.8L560.4 415.2L560.7 416.6L561.0 418.0L561.3 419.4L561.6 420.7L561.9 422.1L562.1 423.5L562.4 424.9L562.7 426.3L563.0 427.7L563.2 429.1L563.5 430.5L563.8 431.8L564.1 433.2L564.4 434.6L564.7 436.0L565.0 437.4L565.4 438.7L565.7 440.1L566.0 441.5L566.2 442.9L566.4 444.3L566.5 445.7L566.7 447.1L566.8 448.5L567.0 449.9L567.1 451.3L567.2 452.8L567.3 454.2L567.4 455.6L567.6 457.0L567.7 458.4L567.9 459.8L568.1 461.2L568.3 462.6L568.5 464.0L568.7 465.4L568.9 466.8L569.1 468.2L569.3 469.6L569.5 471.0L569.7 472.4L569.9 473.8L570.1 475.2L570.3 476.6L570.5 478.0L570.7 479.4L570.9 480.8L571.0 482.2L571.2 483.6L571.4 485.0L571.5 486.4L571.7 487.8L571.9 489.2L572.1 490.6L572.3 492.1L572.4 493.5L572.7 494.9L572.9 496.3L573.1 497.7L573.3 499.1L573.5 500.4L573.7 501.8L574.0 503.2L574.2 504.6L574.5 506.0L574.7 507.4L575.0 508.8L575.3 510.2L575.6 511.6L575.9 512.9L576.2 514.3L576.6 515.7L576.9 517.1L577.3 518.4L577.6 519.8L578.0 521.2L578.4 522.5L578.8 523.9L579.1 525.3L579.5 526.6L579.9 528.0L580.3 529.3L580.8 530.7L581.2 532.0L581.6 533.4L582.1 534.7L582.5 536.1L583.0 537.4L583.5 538.8L583.9 540.1L584.4 541.4L584.9 542.7L585.5 544.0L586.0 545.4L586.6 546.7L587.2 548.0L587.8 549.3L588.5 550.5L589.3 551.6L590.4 552.6L591.5 553.7L592.8 554.4L594.0 554.7L595.3 554.4L596.6 553.8L597.8 552.9L599.1 552.0L600.2 551.1L601.2 550.2L602.1 549.2L603.0 548.1L603.9 546.9L604.7 545.8L605.6 544.6L606.5 543.5L607.5 542.5L608.4 541.4L609.4 540.3L610.4 539.2L611.4 538.2L612.4 537.2L613.5 536.4L614.6 535.6L615.8 535.0L617.2 534.4L618.5 533.8L619.9 533.4L621.2 533.1L622.6 532.8L624.0 532.6L625.4 532.5L626.8 532.8L628.1 533.3L629.4 534.0L630.7 534.7L631.9 535.4L633.1 536.2L634.2 537.1L635.3 538.0L636.3 539.0L637.4 539.9L638.4 540.9L639.4 541.8L640.4 542.8L641.4 543.9L642.4 544.9L643.4 545.9L644.4 546.9L645.4 547.9L646.4 548.9L647.4 549.9L648.4 550.9L649.4 551.9L650.4 552.9L651.4 553.9L652.4 554.9L653.4 556.0L654.4 557.0L655.4 557.9L656.4 558.9L657.5 559.9L658.5 560.9L659.6 561.8L660.8 562.7L661.9 563.4L663.2 564.0L664.5 564.5L665.8 565.0L667.2 565.3L668.7 565.6L670.1 565.7L671.5 565.7L672.9 565.6L674.4 565.4L675.8 565.3L677.1 565.1L678.4 564.8L679.7 564.2L680.9 563.4L682.1 562.5L683.2 561.6L684.3 560.7L685.4 559.8L686.4 558.8L687.4 557.8L688.4 556.7L689.3 555.7L690.3 554.7L691.3 553.6L692.2 552.4L693.1 551.3L694.0 550.3L695.1 549.4L696.3 548.6L697.6 547.8L698.9 547.2L700.1 547.0L701.3 547.5L702.5 548.6L703.5 549.7L704.3 550.8L705.0 552.0L705.6 553.3L706.2 554.7L706.7 556.0L707.4 557.3L708.1 558.5L708.7 559.8L709.4 561.1L710.1 562.3L711.0 563.4L711.9 564.4L713.0 565.4L714.1 566.3L715.4 566.8L716.7 567.2L718.1 567.6L719.5 567.8L720.9 568.0L722.3 568.2L723.7 568.3L725.2 568.4L726.6 568.5L728.0 568.6L729.4 568.7L730.8 568.7L732.2 568.8L733.6 568.9L735.1 568.9L736.5 568.9L737.9 569.0L739.3 569.0L740.7 569.0L742.1 569.0L743.5 569.0L745.0 569.0L746.4 569.1L747.8 569.1L749.2 569.1L750.6 569.1L752.0 569.1L753.4 569.1L754.9 569.1L756.3 569.1L757.7 569.1L759.1 569.1L760.5 569.1L761.9 569.1L763.4 569.2L764.8 569.2L766.2 569.2L767.6 569.2L769.0 569.2L770.4 569.2L771.8 569.2L773.3 569.2L774.7 569.2L776.1 569.2L777.5 569.2L778.9 569.2L780.3 569.2L781.8 569.2L783.2 569.2L784.6 569.2L786.0 569.2" fill="none" stroke="#111111" stroke-width="1.05" stroke-linejoin="round" clip-path="url(#cd)"/>
<path d="M464.0 563.7L465.0 563.7L466.0 563.7L466.9 563.8L467.9 563.8L468.9 563.8L469.8 563.9L470.8 563.9L471.8 564.0L472.7 564.1L473.7 564.2L474.7 564.4L475.6 564.6L476.6 564.9L477.5 565.2L478.5 565.4L479.4 565.7L480.4 565.9L481.3 566.1L482.3 566.2L483.2 566.3L484.2 566.3L485.2 566.2L486.2 566.2L487.2 566.0L488.2 565.9L489.2 565.7L490.2 565.4L491.2 565.2L492.1 564.9L493.1 564.6L494.0 564.3L494.8 564.0L495.6 563.7L496.4 563.3L497.1 562.8L497.9 562.2L498.6 561.5L499.3 560.8L499.9 560.0L500.6 559.1L501.2 558.3L501.8 557.4L502.3 556.6L502.8 555.8L503.3 555.0L503.8 554.2L504.2 553.3L504.6 552.4L505.0 551.5L505.4 550.6L505.8 549.7L506.1 548.8L506.5 547.9L506.8 546.9L507.2 546.0L507.5 545.1L507.9 544.2L508.2 543.3L508.5 542.4L508.9 541.5L509.2 540.5L509.5 539.6L509.8 538.7L510.1 537.8L510.4 536.8L510.7 535.9L511.0 535.0L511.3 534.0L511.6 533.1L511.8 532.2L512.1 531.3L512.4 530.3L512.7 529.4L512.9 528.5L513.2 527.5L513.4 526.6L513.7 525.6L513.9 524.7L514.2 523.8L514.4 522.8L514.7 521.9L514.9 520.9L515.2 520.0L515.4 519.0L515.7 518.1L515.9 517.2L516.2 516.2L516.4 515.3L516.7 514.3L516.9 513.4L517.2 512.5L517.5 511.5L517.7 510.6L518.0 509.7L518.3 508.7L518.5 507.8L518.8 506.8L519.1 505.9L519.3 505.0L519.6 504.0L519.9 503.1L520.1 502.2L520.4 501.2L520.7 500.3L520.9 499.4L521.2 498.4L521.4 497.5L521.7 496.5L521.9 495.6L522.2 494.7L522.4 493.7L522.7 492.8L522.9 491.8L523.1 490.9L523.3 489.9L523.6 489.0L523.8 488.0L524.0 487.1L524.2 486.1L524.5 485.2L524.7 484.2L524.9 483.3L525.2 482.4L525.4 481.4L525.7 480.5L525.9 479.5L526.2 478.6L526.5 477.7L526.8 476.8L527.1 475.8L527.4 474.9L527.7 474.0L528.0 473.1L528.3 472.1L528.6 471.2L529.0 470.3L529.3 469.4L529.7 468.5L530.0 467.6L530.4 466.7L530.7 465.8L531.1 464.9L531.5 464.0L531.9 463.1L532.3 462.1L532.6 461.2L533.1 460.3L533.5 459.4L533.9 458.6L534.4 457.7L534.8 456.9L535.3 456.1L535.9 455.3L536.5 454.5L537.1 453.5L537.7 452.7L538.5 451.8L539.2 451.2L540.0 450.8L540.8 450.7L541.8 450.7L542.9 450.7L543.9 450.7L544.5 450.8L545.0 451.4L545.4 452.4L545.8 453.5L546.2 454.6L546.6 455.6L546.9 456.7L547.2 457.8L547.4 459.1L547.7 460.2L547.9 461.2L548.3 462.0L548.7 462.4L549.3 462.4L550.3 461.8L551.2 461.3L551.6 461.4L551.9 461.8L552.2 462.5L552.4 463.5L552.6 464.6L552.8 465.8L552.9 467.0L553.1 468.3L553.3 469.5L553.5 470.5L553.8 471.5L554.0 472.4L554.3 473.3L554.6 474.3L554.9 475.2L555.1 476.1L555.4 477.1L555.7 478.0L556.0 478.9L556.3 479.9L556.6 480.8L556.9 481.7L557.2 482.6L557.5 483.6L557.8 484.5L558.1 485.4L558.4 486.4L558.7 487.3L559.0 488.2L559.3 489.1L559.6 490.0L559.9 491.0L560.2 491.9L560.5 492.8L560.8 493.7L561.1 494.7L561.5 495.6L561.8 496.5L562.1 497.4L562.4 498.4L562.7 499.3L563.0 500.2L563.3 501.1L563.6 502.0L564.0 503.0L564.3 503.9L564.6 504.8L564.9 505.7L565.2 506.6L565.5 507.6L565.9 508.5L566.2 509.4L566.5 510.3L566.8 511.2L567.1 512.2L567.4 513.1L567.7 514.0L568.0 515.0L568.3 515.9L568.6 516.8L568.9 517.7L569.2 518.7L569.5 519.6L569.8 520.5L570.1 521.4L570.4 522.4L570.7 523.3L571.0 524.2L571.3 525.1L571.7 526.0L572.0 526.9L572.3 527.9L572.7 528.8L573.0 529.7L573.4 530.6L573.7 531.5L574.1 532.4L574.4 533.3L574.8 534.2L575.2 535.1L575.6 536.0L576.0 536.9L576.4 537.8L576.8 538.7L577.2 539.6L577.6 540.4L578.0 541.3L578.4 542.2L578.9 543.1L579.3 544.0L579.8 544.8L580.3 545.6L580.8 546.5L581.3 547.3L581.8 548.1L582.4 549.0L582.9 549.9L583.6 550.7L584.2 551.4L584.9 552.1L585.6 552.6L586.4 553.0L587.2 553.5L588.2 553.9L589.1 554.3L590.1 554.6L591.1 554.8L592.0 555.0L592.9 555.0L593.8 554.7L594.6 554.2L595.3 553.5L596.1 552.8L596.9 552.1L597.8 551.7L598.6 551.2L599.5 550.8L600.4 550.3L601.3 549.9L602.2 549.6L603.1 549.2L604.1 548.9L605.0 548.7L605.9 548.5L606.9 548.3L607.8 548.1L608.8 547.9L609.8 547.7L610.7 547.6L611.7 547.5L612.7 547.5L613.7 547.5L614.6 547.6L615.6 547.6L616.6 547.7L617.5 547.8L618.5 547.9L619.5 547.9L620.4 548.0L621.4 548.2L622.4 548.3L623.3 548.5L624.3 548.7L625.2 548.9L626.2 549.1L627.1 549.3L628.1 549.5L629.0 549.8L630.0 550.0L630.9 550.2L631.9 550.5L632.8 550.8L633.7 551.1L634.6 551.4L635.6 551.7L636.5 552.0L637.4 552.3L638.3 552.7L639.3 553.0L640.2 553.3L641.1 553.6L642.0 553.9L643.0 554.2L643.9 554.5L644.8 554.8L645.7 555.1L646.7 555.4L647.6 555.6L648.6 555.9L649.5 556.1L650.4 556.3L651.4 556.5L652.4 556.6L653.3 556.8L654.3 556.9L655.2 557.0L656.2 557.2L657.2 557.3L658.1 557.4L659.1 557.5L660.1 557.7L661.0 557.8L662.0 557.9L663.0 558.1L663.9 558.2L664.9 558.3L665.9 558.5L666.8 558.6L667.8 558.7L668.8 558.9L669.7 559.0L670.7 559.2L671.6 559.3L672.6 559.5L673.5 559.7L674.5 560.0L675.4 560.2L676.3 560.5L677.3 560.8L678.2 561.1L679.1 561.4L680.1 561.7L681.0 562.0L681.9 562.3L682.8 562.6L683.8 563.0L684.7 563.4L685.6 563.8L686.5 564.2L687.4 564.5L688.4 564.8L689.3 565.0L690.2 565.0L691.2 565.0L692.2 565.0L693.2 565.0L694.2 565.0L695.2 565.0L696.1 565.0L697.1 565.0L698.0 565.0L698.9 564.8L699.8 564.5L700.7 564.0L701.6 563.5L702.4 563.0L703.3 562.4L704.1 561.8L704.9 561.3L705.7 560.7L706.5 560.1L707.2 559.5L708.0 558.8L708.7 558.2L709.4 557.5L710.2 556.9L711.0 556.3L711.8 555.8L712.6 555.2L713.5 554.7L714.4 554.2L715.3 553.8L716.2 553.7L717.1 553.8L718.1 554.1L719.0 554.5L719.9 554.9L720.7 555.4L721.4 556.0L722.1 556.7L722.7 557.4L723.4 558.2L724.0 559.0L724.7 559.7L725.4 560.4L726.1 561.1L726.7 561.9L727.4 562.6L728.1 563.3L728.8 564.0L729.5 564.6L730.2 565.2L731.0 565.7L731.9 566.2L732.8 566.7L733.7 567.1L734.6 567.5L735.5 567.8L736.4 568.0L737.3 568.2L738.3 568.4L739.3 568.5L740.2 568.7L741.2 568.8L742.2 568.9L743.2 568.9L744.2 569.0L745.1 569.0L746.1 569.0L747.1 569.0L748.0 569.0L749.0 569.0L750.0 569.1L750.9 569.1L751.9 569.1L752.9 569.1L753.9 569.1L754.8 569.1L755.8 569.1L756.8 569.1L757.7 569.1L758.7 569.1L759.7 569.1L760.7 569.1L761.6 569.1L762.6 569.1L763.6 569.2L764.5 569.2L765.5 569.2L766.5 569.2L767.5 569.2L768.4 569.2L769.4 569.2L770.4 569.2L771.4 569.2L772.3 569.2L773.3 569.2L774.3 569.2L775.3 569.2L776.2 569.2L777.2 569.2L778.2 569.2L779.2 569.2L780.1 569.2L781.1 569.2L782.1 569.2L783.1 569.2L784.0 569.2L785.0 569.2L786.0 569.2" fill="none" stroke="#e0141e" stroke-width="1.05" stroke-linejoin="round" clip-path="url(#cd)"/>
<path d="M464.0 564.4L464.9 564.5L465.8 564.5L466.6 564.6L467.5 564.7L468.4 564.8L469.3 564.9L470.1 565.0L471.0 565.0L471.9 565.1L472.8 565.2L473.7 565.3L474.5 565.4L475.4 565.6L476.3 565.7L477.1 565.8L478.0 566.0L478.9 566.2L479.8 566.4L480.6 566.5L481.5 566.6L482.4 566.7L483.2 566.8L484.1 566.8L485.0 566.8L485.9 566.7L486.8 566.7L487.6 566.6L488.5 566.5L489.4 566.5L490.3 566.4L491.2 566.2L492.0 566.1L492.9 566.0L493.8 565.9L494.7 565.7L495.5 565.6L496.4 565.5L497.3 565.3L498.2 565.1L499.1 564.9L500.0 564.7L500.9 564.5L501.7 564.2L502.6 564.0L503.5 563.7L504.3 563.4L505.1 563.1L505.9 562.7L506.6 562.4L507.3 562.0L508.0 561.6L508.7 561.1L509.3 560.6L510.0 560.0L510.6 559.3L511.2 558.6L511.8 557.9L512.3 557.1L512.9 556.4L513.4 555.6L513.9 554.8L514.3 554.1L514.8 553.4L515.2 552.6L515.6 551.9L516.0 551.1L516.4 550.3L516.8 549.5L517.1 548.7L517.5 547.9L517.8 547.1L518.2 546.3L518.5 545.4L518.8 544.6L519.2 543.8L519.5 542.9L519.8 542.1L520.1 541.3L520.4 540.4L520.7 539.6L521.0 538.7L521.3 537.9L521.6 537.1L521.9 536.3L522.2 535.4L522.5 534.6L522.8 533.8L523.1 532.9L523.4 532.1L523.7 531.3L524.0 530.4L524.2 529.6L524.5 528.8L524.8 527.9L525.1 527.1L525.3 526.2L525.6 525.4L525.9 524.6L526.2 523.7L526.4 522.9L526.7 522.1L527.0 521.2L527.3 520.4L527.5 519.5L527.8 518.7L528.1 517.9L528.3 517.0L528.6 516.2L528.9 515.3L529.2 514.5L529.4 513.7L529.7 512.8L530.0 512.0L530.3 511.2L530.5 510.3L530.8 509.5L531.1 508.7L531.4 507.8L531.7 507.0L532.0 506.2L532.3 505.3L532.5 504.5L532.8 503.6L533.1 502.8L533.4 502.0L533.7 501.1L534.0 500.3L534.3 499.5L534.6 498.7L534.9 497.8L535.3 497.0L535.6 496.2L535.9 495.4L536.3 494.6L536.6 493.8L537.0 493.0L537.4 492.2L537.7 491.3L538.1 490.5L538.5 489.7L538.9 489.0L539.4 488.2L539.8 487.4L540.3 486.7L540.7 486.0L541.2 485.2L541.8 484.3L542.3 483.4L542.9 482.7L543.6 482.3L544.3 482.2L545.2 482.2L546.1 482.2L546.9 482.3L547.7 482.9L548.4 483.6L549.1 483.8L549.6 483.4L550.1 482.6L550.6 481.5L551.0 480.4L551.4 479.4L551.8 478.5L552.2 478.0L552.6 478.1L553.0 478.5L553.3 479.3L553.6 480.2L553.9 481.3L554.3 482.4L554.6 483.3L555.0 484.2L555.3 485.0L555.7 485.8L556.1 486.6L556.5 487.4L556.9 488.2L557.3 488.9L557.7 489.7L558.1 490.5L558.5 491.3L559.0 492.0L559.5 492.8L559.9 493.5L560.4 494.2L560.9 495.0L561.4 495.7L562.0 496.4L562.5 497.1L563.0 497.8L563.5 498.5L564.1 499.2L564.7 499.9L565.3 500.6L565.8 501.3L566.3 502.0L566.7 502.8L567.0 503.5L567.3 504.3L567.6 505.2L567.8 506.0L568.1 506.8L568.3 507.7L568.5 508.6L568.7 509.4L568.9 510.3L569.1 511.2L569.3 512.1L569.5 512.9L569.7 513.8L569.9 514.7L570.1 515.5L570.4 516.4L570.6 517.3L570.8 518.1L571.0 519.0L571.2 519.9L571.5 520.8L571.7 521.7L571.9 522.6L572.1 523.4L572.4 524.3L572.7 525.1L573.0 525.9L573.3 526.7L573.6 527.4L574.1 528.1L574.7 528.7L575.3 529.3L576.1 529.9L576.7 530.6L577.3 531.2L577.6 531.9L578.0 532.7L578.3 533.5L578.6 534.3L578.9 535.2L579.1 536.0L579.4 536.9L579.6 537.8L579.8 538.7L580.1 539.5L580.4 540.4L580.6 541.2L581.0 542.1L581.3 542.9L581.6 543.7L582.0 544.5L582.3 545.4L582.7 546.2L583.1 547.0L583.5 547.8L583.9 548.6L584.3 549.4L584.7 550.1L585.2 550.8L585.7 551.5L586.2 552.2L586.8 552.9L587.4 553.6L588.1 554.2L588.7 554.8L589.4 555.4L590.1 555.8L590.9 556.3L591.6 556.7L592.4 557.1L593.3 557.5L594.1 557.9L595.0 558.1L595.8 558.3L596.7 558.3L597.5 558.2L598.4 558.1L599.2 557.9L600.1 557.7L601.0 557.5L601.8 557.2L602.7 556.9L603.5 556.6L604.4 556.4L605.2 556.1L606.1 555.9L606.9 555.6L607.7 555.2L608.6 554.9L609.4 554.6L610.2 554.2L611.0 553.9L611.8 553.6L612.7 553.2L613.5 553.0L614.3 552.7L615.2 552.5L616.0 552.2L616.9 552.0L617.7 551.8L618.6 551.5L619.5 551.3L620.3 551.1L621.2 550.9L622.1 550.8L622.9 550.6L623.8 550.5L624.7 550.5L625.5 550.5L626.4 550.5L627.3 550.6L628.2 550.7L629.1 550.7L630.0 550.8L630.9 551.0L631.7 551.1L632.6 551.2L633.4 551.4L634.2 551.7L635.0 552.0L635.8 552.4L636.6 552.8L637.4 553.2L638.2 553.6L639.0 554.0L639.8 554.4L640.6 554.8L641.4 555.1L642.3 555.5L643.1 555.8L643.9 556.1L644.7 556.5L645.5 556.8L646.3 557.1L647.1 557.5L648.0 557.8L648.8 558.2L649.6 558.5L650.4 558.9L651.2 559.2L652.0 559.6L652.8 560.0L653.6 560.4L654.4 560.8L655.2 561.1L656.0 561.5L656.8 561.9L657.6 562.2L658.4 562.6L659.2 562.9L660.0 563.2L660.9 563.5L661.7 563.8L662.5 564.1L663.4 564.4L664.2 564.7L665.0 565.0L665.9 565.2L666.7 565.5L667.6 565.7L668.5 565.9L669.3 566.1L670.2 566.2L671.0 566.4L671.9 566.5L672.8 566.6L673.7 566.7L674.6 566.8L675.4 566.9L676.3 567.0L677.2 567.0L678.1 567.0L678.9 566.9L679.8 566.7L680.7 566.5L681.5 566.3L682.4 566.0L683.2 565.7L684.1 565.4L684.9 565.0L685.7 564.7L686.4 564.3L687.2 563.9L687.9 563.4L688.6 562.9L689.3 562.3L690.0 561.8L690.8 561.2L691.5 560.7L692.2 560.2L693.0 559.7L693.7 559.2L694.4 558.7L695.2 558.2L695.9 557.7L696.7 557.3L697.5 557.0L698.3 556.7L699.2 556.5L700.1 556.3L701.0 556.2L701.8 556.3L702.5 556.6L703.3 557.2L704.0 557.8L704.7 558.4L705.4 559.0L706.0 559.6L706.6 560.2L707.2 560.9L707.8 561.6L708.4 562.2L709.0 562.8L709.7 563.4L710.4 564.0L711.1 564.6L711.8 565.1L712.5 565.7L713.2 566.2L714.0 566.6L714.8 566.9L715.6 567.2L716.4 567.4L717.3 567.6L718.1 567.8L719.0 568.0L719.9 568.2L720.8 568.3L721.7 568.4L722.5 568.5L723.4 568.6L724.3 568.6L725.2 568.7L726.0 568.7L726.9 568.8L727.8 568.8L728.7 568.9L729.6 568.9L730.4 569.0L731.3 569.0L732.2 569.0L733.1 569.1L734.0 569.1L734.9 569.1L735.7 569.2L736.6 569.2L737.5 569.2L738.4 569.2L739.3 569.2L740.2 569.2L741.0 569.2L741.9 569.2L742.8 569.2L743.7 569.2L744.6 569.2L745.4 569.2L746.3 569.2L747.2 569.2L748.1 569.2L749.0 569.2L749.9 569.2L750.7 569.2L751.6 569.2L752.5 569.2L753.4 569.2L754.3 569.2L755.1 569.2L756.0 569.2L756.9 569.2L757.8 569.2L758.7 569.2L759.5 569.2L760.4 569.2L761.3 569.2L762.2 569.2L763.1 569.2L764.0 569.2L764.8 569.2L765.7 569.2L766.6 569.2L767.5 569.2L768.4 569.2L769.2 569.2L770.1 569.2L771.0 569.2L771.9 569.2L772.8 569.2L773.7 569.2L774.5 569.2L775.4 569.2L776.3 569.2L777.2 569.2L778.1 569.2L778.9 569.2L779.8 569.2L780.7 569.2L781.6 569.2L782.5 569.2L783.4 569.2L784.2 569.2L785.1 569.2L786.0 569.2" fill="none" stroke="#1f47a3" stroke-width="1.05" stroke-linejoin="round" clip-path="url(#cd)"/>
<path d="M464.0 565.0L465.2 565.1L466.3 565.2L467.5 565.3L468.6 565.4L469.8 565.5L470.9 565.6L472.1 565.7L473.3 565.8L474.4 565.9L475.6 566.1L476.7 566.2L477.9 566.3L479.0 566.5L480.2 566.6L481.4 566.7L482.5 566.8L483.7 566.8L484.8 566.8L486.0 566.8L487.2 566.8L488.3 566.7L489.5 566.7L490.7 566.6L491.8 566.6L493.0 566.5L494.2 566.5L495.3 566.4L496.5 566.3L497.6 566.2L498.8 566.1L499.9 566.0L501.1 565.9L502.3 565.8L503.5 565.6L504.7 565.4L505.9 565.2L507.1 564.9L508.3 564.6L509.4 564.3L510.4 563.9L511.4 563.5L512.3 563.1L513.2 562.5L514.0 561.8L514.8 561.0L515.6 560.1L516.3 559.1L517.0 558.0L517.7 556.9L518.3 555.8L518.8 554.8L519.3 553.7L519.8 552.7L520.2 551.7L520.7 550.6L521.1 549.5L521.4 548.4L521.8 547.3L522.2 546.2L522.5 545.0L522.8 543.9L523.1 542.8L523.4 541.6L523.7 540.5L524.0 539.4L524.3 538.3L524.6 537.1L524.9 536.0L525.2 534.9L525.4 533.7L525.7 532.6L525.9 531.5L526.2 530.3L526.4 529.2L526.6 528.1L526.9 526.9L527.1 525.8L527.3 524.6L527.6 523.5L527.8 522.4L528.0 521.2L528.3 520.1L528.5 518.9L528.8 517.8L529.0 516.7L529.3 515.5L529.6 514.4L529.8 513.3L530.1 512.1L530.4 511.0L530.6 509.9L530.9 508.7L531.2 507.6L531.4 506.5L531.7 505.3L532.0 504.2L532.2 503.1L532.5 501.9L532.7 500.8L532.9 499.7L533.2 498.5L533.4 497.4L533.6 496.3L533.8 495.1L534.0 494.0L534.2 492.8L534.4 491.7L534.6 490.5L534.8 489.4L535.0 488.2L535.2 487.1L535.4 485.9L535.5 484.8L535.7 483.6L535.9 482.5L536.1 481.3L536.3 480.2L536.4 479.1L536.6 477.9L536.8 476.8L537.0 475.6L537.2 474.5L537.4 473.3L537.6 472.2L537.8 471.0L538.0 469.9L538.2 468.7L538.4 467.6L538.5 466.4L538.7 465.3L538.9 464.1L539.1 463.0L539.3 461.9L539.5 460.7L539.7 459.6L539.9 458.4L540.1 457.3L540.3 456.1L540.5 455.0L540.7 453.8L540.8 452.7L541.0 451.5L541.1 450.3L541.3 449.1L541.5 448.0L541.7 446.9L542.0 445.8L542.4 444.8L543.1 443.8L543.8 442.8L544.5 441.9L545.1 440.9L545.5 439.8L545.9 438.7L546.2 437.6L546.5 436.5L546.8 435.4L547.1 434.2L547.4 433.1L547.7 432.0L548.1 430.9L548.4 429.7L548.8 428.7L549.3 427.6L549.8 426.5L550.3 425.5L550.8 424.4L551.2 423.4L551.6 422.3L552.0 421.2L552.3 420.0L552.5 418.8L552.7 417.6L552.9 416.4L553.2 415.3L553.5 414.2L553.9 413.2L554.6 412.2L555.4 411.8L555.8 412.5L556.1 413.6L556.4 415.0L556.7 416.5L557.0 417.7L557.3 418.8L557.5 420.0L557.8 421.1L558.1 422.2L558.3 423.4L558.6 424.5L558.9 425.6L559.1 426.8L559.4 427.9L559.8 429.0L560.2 430.1L560.6 431.2L561.0 432.2L561.4 433.3L561.9 434.4L562.3 435.5L562.7 436.6L563.0 437.7L563.3 438.8L563.7 439.9L564.0 441.1L564.2 442.2L564.5 443.3L564.8 444.5L565.0 445.6L565.2 446.7L565.4 447.9L565.6 449.0L565.8 450.2L565.9 451.3L566.1 452.5L566.2 453.6L566.4 454.8L566.5 455.9L566.7 457.1L566.8 458.2L567.0 459.4L567.1 460.5L567.2 461.7L567.4 462.9L567.5 464.0L567.7 465.2L567.8 466.3L568.0 467.5L568.1 468.8L568.2 470.1L568.3 471.4L568.4 472.7L568.5 474.0L568.7 475.3L568.8 476.6L568.9 477.8L569.1 479.0L569.3 480.0L569.5 481.0L569.8 481.8L570.1 482.5L570.9 483.1L572.2 483.5L572.8 484.1L573.2 485.0L573.5 485.9L573.8 487.1L574.0 488.3L574.2 489.5L574.4 490.8L574.6 492.1L574.8 493.4L575.0 494.6L575.3 495.7L575.5 496.8L575.7 498.0L576.0 499.1L576.2 500.3L576.4 501.4L576.7 502.5L576.9 503.7L577.2 504.8L577.4 505.9L577.6 507.1L577.9 508.2L578.1 509.4L578.4 510.5L578.6 511.6L578.9 512.8L579.2 513.9L579.4 515.0L579.7 516.1L580.0 517.3L580.2 518.4L580.5 519.5L580.8 520.7L581.1 521.8L581.4 522.9L581.7 524.0L582.0 525.2L582.3 526.3L582.6 527.4L582.9 528.5L583.2 529.7L583.5 530.8L583.8 531.9L584.2 533.0L584.5 534.1L584.8 535.3L585.2 536.4L585.5 537.5L585.9 538.6L586.2 539.7L586.6 540.8L587.0 541.9L587.4 543.0L587.9 544.0L588.3 545.1L588.8 546.3L589.3 547.5L589.8 548.7L590.4 549.9L591.0 550.9L591.6 551.8L592.3 552.4L593.2 552.8L594.3 553.1L595.6 553.4L596.7 553.5L597.7 553.3L598.7 552.6L599.6 551.6L600.4 550.8L601.2 550.0L602.0 549.1L602.7 548.2L603.5 547.3L604.2 546.4L604.9 545.5L605.6 544.5L606.4 543.7L607.2 542.8L608.0 542.0L608.8 541.1L609.7 540.3L610.5 539.4L611.4 538.6L612.3 537.8L613.2 537.1L614.2 536.6L615.2 536.1L616.3 535.8L617.4 535.4L618.5 535.1L619.7 534.8L620.9 534.6L622.0 534.5L623.1 534.5L624.2 534.8L625.3 535.3L626.4 535.9L627.4 536.6L628.4 537.3L629.3 537.9L630.2 538.6L631.0 539.4L631.8 540.3L632.6 541.1L633.4 542.0L634.2 542.9L635.0 543.7L635.9 544.6L636.7 545.4L637.5 546.3L638.3 547.1L639.1 547.9L639.9 548.8L640.7 549.6L641.6 550.3L642.4 551.2L643.3 552.0L644.2 552.8L645.1 553.5L646.1 554.2L647.0 554.8L648.0 555.2L649.1 555.6L650.2 555.9L651.3 556.2L652.5 556.5L653.7 556.8L654.8 557.0L656.0 557.2L657.1 557.3L658.3 557.5L659.4 557.7L660.6 557.8L661.7 557.9L662.9 558.0L664.0 558.1L665.2 558.2L666.4 558.3L667.6 558.3L668.7 558.4L669.9 558.4L671.1 558.5L672.3 558.5L673.4 558.6L674.5 558.7L675.6 558.8L676.7 559.1L677.7 559.6L678.7 560.2L679.8 560.9L680.8 561.5L681.8 562.1L682.8 562.7L683.9 563.2L685.0 563.7L686.0 564.2L687.1 564.7L688.2 565.2L689.2 565.5L690.4 565.8L691.5 566.0L692.6 566.2L693.8 566.4L694.9 566.6L696.1 566.7L697.3 566.9L698.4 567.0L699.6 567.0L700.7 567.0L701.9 566.8L703.1 566.6L704.3 566.3L705.4 565.9L706.5 565.5L707.5 565.0L708.4 564.5L709.2 563.8L710.1 563.0L710.9 562.1L711.6 561.1L712.4 560.2L713.2 559.3L714.0 558.4L714.8 557.5L715.5 556.6L716.3 555.7L717.1 554.8L717.8 553.9L718.6 553.1L719.5 552.4L720.4 551.7L721.4 551.0L722.5 550.3L723.5 549.8L724.6 549.5L725.7 549.6L726.8 550.0L727.9 550.6L728.8 551.3L729.6 552.0L730.4 552.9L731.0 553.9L731.7 554.9L732.3 555.9L733.0 556.9L733.5 557.9L734.1 559.0L734.6 560.0L735.2 561.0L735.8 562.0L736.5 562.9L737.3 563.8L738.1 564.7L739.0 565.5L739.9 566.1L740.9 566.6L741.9 567.1L743.0 567.5L744.2 567.9L745.3 568.2L746.5 568.4L747.7 568.5L748.8 568.6L749.9 568.7L751.1 568.8L752.2 568.8L753.4 568.9L754.6 568.9L755.7 569.0L756.9 569.0L758.1 569.1L759.2 569.1L760.4 569.2L761.6 569.2L762.7 569.2L763.9 569.2L765.1 569.2L766.2 569.2L767.4 569.2L768.6 569.2L769.7 569.2L770.9 569.2L772.0 569.2L773.2 569.2L774.4 569.2L775.5 569.2L776.7 569.2L777.9 569.2L779.0 569.2L780.2 569.2L781.3 569.2L782.5 569.2L783.7 569.2L784.8 569.2L786.0 569.2" fill="none" stroke="#a55fa3" stroke-width="1.05" stroke-linejoin="round" clip-path="url(#cd)"/>
<rect x="464.1" y="325" width="322.6" height="260.4" fill="none" stroke="#111" stroke-width="1.1"/>
<path d="M528.6 585.4v-5M593.1 585.4v-5M657.7 585.4v-5M722.2 585.4v-5" stroke="#111" stroke-width="1.0" fill="none"/>
<path d="M483.5 585.4v-2.6M494.9 585.4v-2.6M502.9 585.4v-2.6M509.2 585.4v-2.6M514.3 585.4v-2.6M518.6 585.4v-2.6M522.4 585.4v-2.6M525.7 585.4v-2.6M548 585.4v-2.6M559.4 585.4v-2.6M567.5 585.4v-2.6M573.7 585.4v-2.6M578.8 585.4v-2.6M583.1 585.4v-2.6M586.9 585.4v-2.6M590.2 585.4v-2.6M612.6 585.4v-2.6M623.9 585.4v-2.6M632 585.4v-2.6M638.2 585.4v-2.6M643.3 585.4v-2.6M647.7 585.4v-2.6M651.4 585.4v-2.6M654.7 585.4v-2.6M677.1 585.4v-2.6M688.4 585.4v-2.6M696.5 585.4v-2.6M702.8 585.4v-2.6M707.9 585.4v-2.6M712.2 585.4v-2.6M715.9 585.4v-2.6M719.2 585.4v-2.6M741.6 585.4v-2.6M753 585.4v-2.6M761 585.4v-2.6M767.3 585.4v-2.6M772.4 585.4v-2.6M776.7 585.4v-2.6M780.4 585.4v-2.6M783.7 585.4v-2.6" stroke="#111" stroke-width="1.0" fill="none"/>
<path d="M464.1 569.4h5M464.1 504.2h5M464.1 439.1h5M464.1 373.9h5" stroke="#111" stroke-width="1.0" fill="none"/>
<path d="M464.1 536.8h3M464.1 471.7h3M464.1 406.5h3M464.1 341.4h3" stroke="#111" stroke-width="1.0" fill="none"/>
<text x="460.2" y="575.6" font-size="18.4" text-anchor="end">0</text>
<text x="460.2" y="510.4" font-size="18.4" text-anchor="end">0.2</text>
<text x="460.2" y="445.3" font-size="18.4" text-anchor="end">0.4</text>
<text x="460.2" y="380.1" font-size="18.4" text-anchor="end">0.6</text>
<text x="455.2" y="606.8" font-size="16.8" text-anchor="start">10<tspan font-size="10.6" dy="-6.8">−1</tspan></text>
<text x="519.7" y="606.8" font-size="16.8" text-anchor="start">10<tspan font-size="10.6" dy="-6.8">0</tspan></text>
<text x="584.2" y="606.8" font-size="16.8" text-anchor="start">10<tspan font-size="10.6" dy="-6.8">1</tspan></text>
<text x="648.7" y="606.8" font-size="16.8" text-anchor="start">10<tspan font-size="10.6" dy="-6.8">2</tspan></text>
<text x="713.2" y="606.8" font-size="16.8" text-anchor="start">10<tspan font-size="10.6" dy="-6.8">3</tspan></text>
<text x="777.8" y="606.8" font-size="16.8" text-anchor="start">10<tspan font-size="10.6" dy="-6.8">4</tspan></text>
<text x="633.5" y="627.6" font-size="18.5" text-anchor="middle">Frequency / Hz</text>
<text transform="translate(424.4 459.3) rotate(-90)" font-size="18.3" text-anchor="middle">F(<tspan font-style="italic">τ</tspan>) / (Ω·cm<tspan font-size="11" dy="-6">2</tspan><tspan dy="6">)</tspan></text>
<text x="473.3" y="348.4" font-size="18.2" text-anchor="start">(d)</text>
<text x="547.4" y="350.7" font-size="18.2" text-anchor="middle">LF</text>
<text x="633.7" y="521" font-size="18.2" text-anchor="middle">IF</text>
<text x="722.5" y="533.5" font-size="18.2" text-anchor="middle">HF</text>
<text x="524" y="440" font-size="18.2" text-anchor="middle">1</text>
<text x="508.6" y="530" font-size="18.2" text-anchor="middle">2</text>
<text x="548.2" y="500" font-size="18.2" text-anchor="middle">3</text>
<text x="554" y="438.4" font-size="18.2" text-anchor="middle">4</text>
<text x="650.5" y="348.1" font-size="18.2" text-anchor="start">1</text>
<path d="M661.9 341.9H693.3" stroke="#111111" stroke-width="1.2"/>
<text x="700.5" y="348.5" font-size="18.2" text-anchor="start">L<tspan font-size="11.4" dy="3.5">0.1</tspan><tspan dy="-3.5">SFNM</tspan></text>
<text x="650.5" y="370.4" font-size="18.2" text-anchor="start">2</text>
<path d="M661.9 364.2H693.3" stroke="#e0141e" stroke-width="1.2"/>
<text x="700.5" y="370.8" font-size="18.2" text-anchor="start">L<tspan font-size="11.4" dy="3.5">0.2</tspan><tspan dy="-3.5">SFNM</tspan></text>
<text x="650.5" y="392.7" font-size="18.2" text-anchor="start">3</text>
<path d="M661.9 386.5H693.3" stroke="#1f47a3" stroke-width="1.2"/>
<text x="700.5" y="393.1" font-size="18.2" text-anchor="start">L<tspan font-size="11.4" dy="3.5">0.3</tspan><tspan dy="-3.5">SFNM</tspan></text>
<text x="650.5" y="415" font-size="18.2" text-anchor="start">4</text>
<path d="M661.9 408.8H693.3" stroke="#a55fa3" stroke-width="1.2"/>
<text x="700.5" y="415.4" font-size="18.2" text-anchor="start">L<tspan font-size="11.4" dy="3.5">0.4</tspan><tspan dy="-3.5">SFNM</tspan></text>
</svg>
</body></html>
